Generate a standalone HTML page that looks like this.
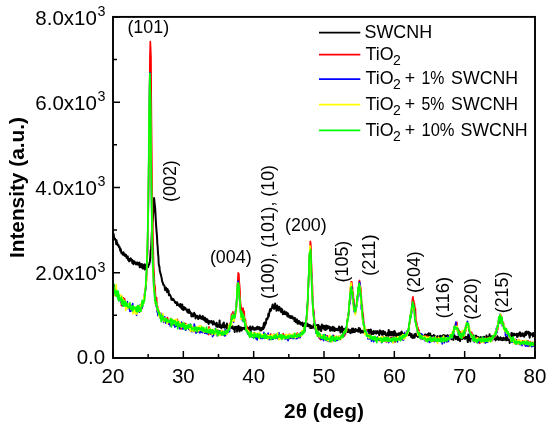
<!DOCTYPE html>
<html lang="en"><head><meta charset="utf-8"><title>XRD patterns</title>
<style>html,body{margin:0;padding:0;background:#fff}body{width:550px;height:431px;overflow:hidden}</style></head>
<body>
<svg width="550" height="431" viewBox="0 0 550 431" style="display:block" font-family="'Liberation Sans', sans-serif" fill="#000">
<rect width="550" height="431" fill="#fff"/>
<clipPath id="c"><rect x="113.0" y="16.9" width="422.0" height="341.1"/></clipPath>
<g clip-path="url(#c)">
<polyline points="113.0,234.6 113.4,233.6 113.7,234.6 114.1,237.8 114.4,238.3 114.8,239.4 115.1,238.7 115.5,240.3 115.8,239.9 116.2,244.2 116.5,240.2 116.9,243.2 117.2,242.8 117.6,244.6 117.9,245.5 118.3,245.0 118.6,245.1 119.0,247.1 119.3,247.6 119.7,247.0 120.0,249.7 120.4,251.1 120.7,249.1 121.1,251.0 121.4,253.2 121.8,252.2 122.1,252.2 122.5,253.7 122.8,254.6 123.2,253.0 123.6,252.3 123.9,254.3 124.3,255.4 124.6,254.3 125.0,254.3 125.3,256.0 125.7,255.3 126.0,254.9 126.4,257.0 126.7,258.1 127.1,256.9 127.4,257.3 127.8,256.4 128.1,260.0 128.5,259.4 128.8,259.9 129.2,261.4 129.5,259.1 129.9,258.8 130.2,260.8 130.6,258.2 130.9,259.2 131.3,259.7 131.6,260.2 132.0,259.7 132.3,263.0 132.7,260.6 133.0,260.8 133.4,264.2 133.7,261.5 134.1,262.6 134.5,261.4 134.8,263.2 135.2,262.8 135.5,262.5 135.9,264.4 136.2,262.6 136.6,263.7 136.9,263.1 137.3,264.6 137.6,262.6 138.0,263.4 138.3,264.7 138.7,263.7 139.0,263.0 139.4,262.5 139.7,267.2 140.1,264.0 140.4,264.7 140.8,265.6 141.1,267.0 141.5,264.1 141.8,267.6 142.2,265.3 142.5,264.5 142.9,268.6 143.2,267.0 143.6,268.5 143.9,266.5 144.3,264.9 144.7,264.4 145.0,269.6 145.4,268.0 145.7,266.4 146.1,265.2 146.4,266.7 146.8,268.2 147.1,266.6 147.5,266.8 147.8,266.7 148.2,267.1 148.5,265.2 148.9,264.8 149.2,264.3 149.6,262.4 149.9,261.2 150.3,256.9 150.6,251.2 151.0,248.9 151.3,245.0 151.7,235.0 152.0,230.0 152.4,222.4 152.7,219.8 153.1,214.8 153.4,210.7 153.8,202.4 154.1,198.0 154.5,202.4 154.8,205.0 155.2,208.3 155.6,216.4 155.9,222.1 156.3,227.9 156.6,232.2 157.0,236.3 157.3,243.1 157.7,247.1 158.0,253.6 158.4,256.7 158.7,263.6 159.1,266.2 159.4,266.3 159.8,271.0 160.1,271.8 160.5,273.7 160.8,274.2 161.2,276.2 161.5,277.1 161.9,279.7 162.2,281.4 162.6,282.5 162.9,283.0 163.3,284.8 163.6,284.9 164.0,285.1 164.3,285.4 164.7,287.0 165.0,289.9 165.4,288.1 165.8,288.3 166.1,287.8 166.5,289.2 166.8,291.5 167.2,292.2 167.5,289.0 167.9,291.3 168.2,290.5 168.6,290.6 168.9,295.2 169.3,294.1 169.6,294.5 170.0,294.9 170.3,295.5 170.7,296.4 171.0,296.9 171.4,299.7 171.7,298.3 172.1,299.6 172.4,298.8 172.8,300.1 173.1,299.0 173.5,299.1 173.8,300.2 174.2,300.5 174.5,301.2 174.9,302.3 175.2,302.2 175.6,303.0 175.9,302.1 176.3,302.8 176.7,302.4 177.0,305.2 177.4,302.5 177.7,305.0 178.1,305.2 178.4,304.7 178.8,305.4 179.1,304.5 179.5,305.9 179.8,306.8 180.2,306.8 180.5,304.1 180.9,306.0 181.2,307.9 181.6,306.6 181.9,308.9 182.3,304.6 182.6,309.4 183.0,306.9 183.3,307.1 183.7,310.1 184.0,307.9 184.4,307.2 184.7,308.2 185.1,308.7 185.4,308.0 185.8,309.4 186.1,309.4 186.5,310.2 186.9,309.5 187.2,311.8 187.6,309.7 187.9,311.7 188.3,312.8 188.6,311.0 189.0,309.4 189.3,310.7 189.7,312.9 190.0,311.5 190.4,313.3 190.7,313.0 191.1,313.0 191.4,316.5 191.8,313.3 192.1,315.2 192.5,315.0 192.8,316.2 193.2,316.5 193.5,315.9 193.9,313.7 194.2,312.8 194.6,315.3 194.9,314.0 195.3,316.0 195.6,318.4 196.0,315.8 196.3,315.6 196.7,316.9 197.0,316.1 197.4,315.9 197.8,318.0 198.1,319.0 198.5,317.4 198.8,317.5 199.2,317.9 199.5,316.2 199.9,315.3 200.2,318.4 200.6,317.0 200.9,316.8 201.3,317.2 201.6,316.9 202.0,319.0 202.3,317.6 202.7,316.0 203.0,317.8 203.4,319.8 203.7,318.3 204.1,317.6 204.4,319.0 204.8,320.4 205.1,317.7 205.5,321.6 205.8,319.4 206.2,320.3 206.5,322.0 206.9,318.9 207.2,320.3 207.6,322.5 208.0,320.2 208.3,321.8 208.7,324.0 209.0,322.5 209.4,321.3 209.7,321.0 210.1,321.8 210.4,322.1 210.8,321.6 211.1,322.7 211.5,320.9 211.8,322.5 212.2,322.4 212.5,322.2 212.9,324.5 213.2,324.2 213.6,321.3 213.9,323.0 214.3,324.0 214.6,323.3 215.0,324.5 215.3,323.6 215.7,325.0 216.0,323.9 216.4,326.5 216.7,322.7 217.1,325.3 217.4,326.9 217.8,325.1 218.1,325.4 218.5,324.8 218.9,326.7 219.2,324.7 219.6,320.4 219.9,327.1 220.3,325.0 220.6,326.0 221.0,325.4 221.3,328.2 221.7,327.4 222.0,325.3 222.4,326.1 222.7,323.9 223.1,327.1 223.4,326.0 223.8,322.4 224.1,327.4 224.5,327.7 224.8,326.6 225.2,326.7 225.5,325.5 225.9,326.6 226.2,327.9 226.6,326.6 226.9,323.4 227.3,325.3 227.6,330.9 228.0,327.4 228.3,328.4 228.7,326.5 229.1,327.6 229.4,324.8 229.8,326.2 230.1,326.3 230.5,327.4 230.8,327.7 231.2,327.2 231.5,326.0 231.9,327.1 232.2,328.3 232.6,326.2 232.9,327.7 233.3,328.1 233.6,329.1 234.0,328.8 234.3,328.9 234.7,331.9 235.0,326.8 235.4,327.4 235.7,328.5 236.1,326.8 236.4,327.7 236.8,327.8 237.1,331.7 237.5,328.6 237.8,327.6 238.2,326.2 238.5,325.9 238.9,326.5 239.2,330.0 239.6,331.4 240.0,327.7 240.3,328.4 240.7,327.2 241.0,328.7 241.4,328.2 241.7,330.6 242.1,327.9 242.4,329.1 242.8,328.1 243.1,327.9 243.5,328.7 243.8,328.1 244.2,328.6 244.5,327.6 244.9,327.9 245.2,329.4 245.6,329.4 245.9,326.3 246.3,328.8 246.6,327.3 247.0,328.1 247.3,329.4 247.7,329.7 248.0,328.5 248.4,328.3 248.7,327.9 249.1,330.4 249.4,329.5 249.8,328.8 250.2,326.5 250.5,331.9 250.9,328.1 251.2,329.5 251.6,328.1 251.9,329.4 252.3,328.2 252.6,326.6 253.0,328.3 253.3,328.1 253.7,328.2 254.0,329.8 254.4,328.0 254.7,329.0 255.1,329.8 255.4,328.8 255.8,329.0 256.1,327.7 256.5,328.8 256.8,329.4 257.2,326.7 257.5,327.3 257.9,326.9 258.2,327.8 258.6,328.8 258.9,329.2 259.3,329.0 259.6,327.3 260.0,328.4 260.3,330.6 260.7,328.6 261.1,330.4 261.4,328.1 261.8,329.8 262.1,329.6 262.5,327.4 262.8,327.3 263.2,329.1 263.5,325.4 263.9,323.1 264.2,327.6 264.6,322.5 264.9,325.3 265.3,324.2 265.6,322.8 266.0,323.5 266.3,318.8 266.7,318.8 267.0,319.5 267.4,317.9 267.7,318.7 268.1,316.2 268.4,313.6 268.8,316.4 269.1,313.8 269.5,312.2 269.8,310.2 270.2,309.1 270.5,310.9 270.9,310.6 271.3,308.4 271.6,308.8 272.0,308.2 272.3,305.7 272.7,304.5 273.0,306.2 273.4,306.7 273.7,305.7 274.1,309.0 274.4,306.6 274.8,308.1 275.1,303.5 275.5,305.9 275.8,306.8 276.2,307.4 276.5,310.7 276.9,306.5 277.2,305.4 277.6,308.8 277.9,307.0 278.3,307.1 278.6,310.4 279.0,307.2 279.3,306.8 279.7,308.6 280.0,309.2 280.4,308.3 280.7,311.7 281.1,309.8 281.4,308.8 281.8,312.2 282.2,309.4 282.5,311.6 282.9,314.2 283.2,311.8 283.6,313.2 283.9,311.7 284.3,314.0 284.6,311.3 285.0,314.0 285.3,312.7 285.7,314.3 286.0,314.1 286.4,312.3 286.7,313.9 287.1,315.0 287.4,316.4 287.8,313.3 288.1,314.1 288.5,315.8 288.8,315.3 289.2,317.2 289.5,317.4 289.9,317.4 290.2,316.0 290.6,316.3 290.9,318.0 291.3,316.2 291.6,316.4 292.0,317.4 292.4,316.5 292.7,318.5 293.1,318.5 293.4,318.0 293.8,318.9 294.1,318.0 294.5,321.1 294.8,317.7 295.2,321.0 295.5,320.4 295.9,322.3 296.2,319.8 296.6,319.2 296.9,319.7 297.3,320.2 297.6,323.7 298.0,322.9 298.3,322.6 298.7,323.5 299.0,320.9 299.4,322.3 299.7,322.8 300.1,322.2 300.4,324.4 300.8,324.5 301.1,324.6 301.5,322.9 301.8,323.2 302.2,323.0 302.5,322.5 302.9,326.0 303.3,325.0 303.6,324.2 304.0,326.3 304.3,325.3 304.7,323.3 305.0,323.3 305.4,323.4 305.7,324.9 306.1,325.4 306.4,323.7 306.8,325.8 307.1,324.9 307.5,323.6 307.8,326.0 308.2,326.4 308.5,325.6 308.9,324.8 309.2,325.1 309.6,325.6 309.9,325.1 310.3,328.1 310.6,327.1 311.0,325.8 311.3,327.3 311.7,328.0 312.0,327.8 312.4,327.5 312.7,326.5 313.1,327.7 313.5,326.1 313.8,324.1 314.2,326.7 314.5,324.8 314.9,326.2 315.2,328.2 315.6,327.1 315.9,328.1 316.3,325.8 316.6,328.4 317.0,325.1 317.3,326.2 317.7,329.8 318.0,326.0 318.4,325.0 318.7,328.2 319.1,325.9 319.4,329.7 319.8,327.0 320.1,329.6 320.5,326.7 320.8,329.9 321.2,331.1 321.5,327.0 321.9,324.5 322.2,328.4 322.6,326.5 322.9,327.6 323.3,328.2 323.6,327.0 324.0,325.6 324.4,329.6 324.7,327.2 325.1,327.5 325.4,330.0 325.8,325.9 326.1,325.5 326.5,329.5 326.8,325.8 327.2,328.2 327.5,328.5 327.9,326.3 328.2,328.1 328.6,328.0 328.9,326.4 329.3,326.8 329.6,327.3 330.0,330.5 330.3,330.8 330.7,327.2 331.0,330.0 331.4,328.6 331.7,330.3 332.1,329.1 332.4,330.6 332.8,326.7 333.1,330.4 333.5,329.2 333.8,329.3 334.2,327.5 334.6,331.1 334.9,329.2 335.3,329.5 335.6,328.6 336.0,328.7 336.3,330.0 336.7,329.1 337.0,329.9 337.4,328.8 337.7,329.6 338.1,330.4 338.4,329.6 338.8,329.1 339.1,326.6 339.5,330.4 339.8,329.3 340.2,327.8 340.5,332.6 340.9,332.2 341.2,331.5 341.6,330.1 341.9,326.6 342.3,329.4 342.6,328.4 343.0,330.3 343.3,333.4 343.7,333.2 344.0,328.7 344.4,329.9 344.7,332.0 345.1,328.7 345.5,332.3 345.8,328.7 346.2,328.3 346.5,331.4 346.9,331.9 347.2,329.2 347.6,331.9 347.9,329.3 348.3,332.1 348.6,329.4 349.0,330.4 349.3,331.1 349.7,331.8 350.0,330.3 350.4,333.2 350.7,331.0 351.1,331.2 351.4,329.8 351.8,332.4 352.1,328.4 352.5,331.2 352.8,332.3 353.2,328.9 353.5,328.6 353.9,331.1 354.2,332.1 354.6,330.9 354.9,331.9 355.3,331.4 355.7,328.9 356.0,330.5 356.4,330.8 356.7,330.6 357.1,331.1 357.4,329.9 357.8,329.9 358.1,331.6 358.5,331.0 358.8,327.9 359.2,330.6 359.5,331.5 359.9,328.5 360.2,331.2 360.6,332.8 360.9,330.4 361.3,332.5 361.6,332.0 362.0,330.9 362.3,331.6 362.7,332.4 363.0,332.2 363.4,332.3 363.7,329.9 364.1,332.5 364.4,332.3 364.8,328.8 365.1,332.3 365.5,329.6 365.8,329.8 366.2,331.8 366.6,333.6 366.9,331.0 367.3,330.8 367.6,330.4 368.0,331.6 368.3,330.1 368.7,329.9 369.0,333.2 369.4,329.9 369.7,331.6 370.1,332.6 370.4,332.3 370.8,329.4 371.1,330.6 371.5,334.4 371.8,331.9 372.2,332.2 372.5,332.3 372.9,332.8 373.2,334.1 373.6,330.9 373.9,333.4 374.3,332.7 374.6,333.0 375.0,333.2 375.3,331.2 375.7,331.8 376.0,333.2 376.4,333.6 376.8,333.0 377.1,331.1 377.5,332.2 377.8,332.1 378.2,332.9 378.5,332.8 378.9,332.2 379.2,335.1 379.6,330.4 379.9,333.7 380.3,333.4 380.6,330.8 381.0,332.4 381.3,332.7 381.7,333.5 382.0,334.9 382.4,332.6 382.7,331.2 383.1,334.1 383.4,331.0 383.8,334.5 384.1,334.0 384.5,332.3 384.8,333.0 385.2,332.1 385.5,334.1 385.9,334.5 386.2,335.7 386.6,334.8 386.9,334.7 387.3,335.2 387.7,332.8 388.0,334.2 388.4,336.0 388.7,330.0 389.1,334.5 389.4,335.1 389.8,331.7 390.1,331.9 390.5,335.1 390.8,335.5 391.2,334.9 391.5,332.1 391.9,334.0 392.2,334.7 392.6,333.7 392.9,332.1 393.3,335.6 393.6,334.3 394.0,335.7 394.3,330.9 394.7,331.4 395.0,332.6 395.4,334.1 395.7,333.1 396.1,336.9 396.4,333.7 396.8,335.9 397.1,335.9 397.5,335.1 397.9,334.6 398.2,333.4 398.6,333.3 398.9,333.9 399.3,335.6 399.6,333.4 400.0,334.5 400.3,332.8 400.7,335.7 401.0,338.3 401.4,335.2 401.7,331.6 402.1,334.0 402.4,334.9 402.8,333.5 403.1,334.0 403.5,334.1 403.8,335.5 404.2,334.7 404.5,334.6 404.9,335.8 405.2,336.4 405.6,334.8 405.9,333.7 406.3,334.2 406.6,334.4 407.0,334.4 407.3,331.6 407.7,334.8 408.0,333.8 408.4,332.6 408.8,335.2 409.1,334.9 409.5,333.9 409.8,333.1 410.2,335.0 410.5,334.9 410.9,335.3 411.2,337.1 411.6,334.0 411.9,335.9 412.3,337.9 412.6,335.8 413.0,338.0 413.3,337.0 413.7,335.6 414.0,336.9 414.4,334.3 414.7,337.7 415.1,335.4 415.4,335.0 415.8,333.8 416.1,334.6 416.5,335.6 416.8,335.8 417.2,336.0 417.5,334.4 417.9,336.9 418.2,335.3 418.6,336.2 419.0,335.7 419.3,336.4 419.7,333.2 420.0,337.0 420.4,335.8 420.7,335.8 421.1,335.4 421.4,335.6 421.8,335.7 422.1,334.9 422.5,338.3 422.8,336.3 423.2,338.0 423.5,336.1 423.9,338.0 424.2,337.7 424.6,336.5 424.9,334.6 425.3,335.7 425.6,336.1 426.0,334.6 426.3,337.8 426.7,339.4 427.0,337.1 427.4,337.0 427.7,334.9 428.1,333.7 428.4,338.4 428.8,333.3 429.1,334.5 429.5,335.5 429.9,336.2 430.2,333.4 430.6,336.6 430.9,337.4 431.3,336.5 431.6,338.6 432.0,336.1 432.3,336.9 432.7,336.3 433.0,336.3 433.4,338.2 433.7,335.0 434.1,338.2 434.4,335.6 434.8,339.0 435.1,336.3 435.5,338.0 435.8,336.8 436.2,337.8 436.5,339.9 436.9,338.4 437.2,336.8 437.6,336.1 437.9,338.9 438.3,339.8 438.6,338.1 439.0,337.2 439.3,337.8 439.7,338.1 440.1,335.8 440.4,335.7 440.8,336.0 441.1,338.3 441.5,336.9 441.8,337.3 442.2,339.0 442.5,335.8 442.9,336.9 443.2,337.7 443.6,335.1 443.9,336.0 444.3,335.9 444.6,335.5 445.0,336.1 445.3,338.8 445.7,337.7 446.0,335.8 446.4,338.2 446.7,337.1 447.1,336.6 447.4,335.2 447.8,335.4 448.1,336.0 448.5,337.4 448.8,335.9 449.2,336.5 449.5,337.4 449.9,335.4 450.2,336.5 450.6,338.3 451.0,335.5 451.3,337.6 451.7,336.4 452.0,339.3 452.4,337.3 452.7,338.6 453.1,338.6 453.4,339.9 453.8,334.4 454.1,337.5 454.5,337.0 454.8,335.8 455.2,337.5 455.5,336.6 455.9,339.2 456.2,337.1 456.6,337.9 456.9,336.7 457.3,337.1 457.6,339.3 458.0,339.9 458.3,338.8 458.7,336.4 459.0,336.8 459.4,336.9 459.7,340.2 460.1,341.1 460.4,338.3 460.8,337.9 461.2,338.3 461.5,337.0 461.9,337.7 462.2,339.1 462.6,338.7 462.9,337.3 463.3,337.4 463.6,337.6 464.0,334.4 464.3,337.9 464.7,337.4 465.0,338.9 465.4,338.0 465.7,336.8 466.1,336.8 466.4,337.8 466.8,337.0 467.1,337.5 467.5,340.2 467.8,342.1 468.2,334.5 468.5,336.5 468.9,337.7 469.2,340.0 469.6,339.4 469.9,335.8 470.3,341.4 470.6,338.1 471.0,336.5 471.3,337.5 471.7,336.7 472.1,337.9 472.4,334.4 472.8,339.1 473.1,339.6 473.5,337.3 473.8,335.8 474.2,337.8 474.5,336.3 474.9,338.5 475.2,339.4 475.6,335.9 475.9,335.6 476.3,335.7 476.6,338.4 477.0,339.4 477.3,339.4 477.7,338.1 478.0,337.0 478.4,337.1 478.7,339.8 479.1,337.6 479.4,337.8 479.8,337.7 480.1,337.9 480.5,338.1 480.8,337.1 481.2,337.7 481.5,337.6 481.9,338.8 482.3,337.4 482.6,338.1 483.0,340.8 483.3,337.3 483.7,338.3 484.0,336.7 484.4,338.2 484.7,338.1 485.1,337.7 485.4,338.0 485.8,338.6 486.1,340.5 486.5,335.5 486.8,340.2 487.2,338.5 487.5,337.2 487.9,337.6 488.2,337.3 488.6,337.1 488.9,336.4 489.3,337.8 489.6,334.2 490.0,339.6 490.3,337.9 490.7,338.7 491.0,339.0 491.4,337.9 491.7,336.3 492.1,339.3 492.4,339.3 492.8,337.4 493.2,337.7 493.5,335.8 493.9,337.0 494.2,338.1 494.6,338.9 494.9,338.2 495.3,338.8 495.6,340.4 496.0,338.5 496.3,338.8 496.7,338.9 497.0,339.2 497.4,336.3 497.7,337.7 498.1,337.3 498.4,339.5 498.8,340.0 499.1,339.0 499.5,338.3 499.8,339.1 500.2,338.9 500.5,337.3 500.9,338.2 501.2,340.0 501.6,339.2 501.9,339.5 502.3,338.4 502.6,340.2 503.0,338.9 503.4,337.7 503.7,338.6 504.1,339.9 504.4,339.5 504.8,338.5 505.1,338.0 505.5,337.5 505.8,338.8 506.2,340.4 506.5,336.7 506.9,338.2 507.2,338.1 507.6,338.2 507.9,340.1 508.3,339.1 508.6,338.3 509.0,337.2 509.3,338.6 509.7,342.9 510.0,339.0 510.4,338.0 510.7,336.2 511.1,336.2 511.4,333.0 511.8,333.8 512.1,333.3 512.5,333.6 512.8,336.7 513.2,333.6 513.5,333.9 513.9,335.4 514.3,333.8 514.6,334.0 515.0,335.2 515.3,334.7 515.7,334.9 516.0,334.2 516.4,335.0 516.7,333.7 517.1,337.0 517.4,334.8 517.8,336.7 518.1,335.0 518.5,333.6 518.8,334.3 519.2,334.5 519.5,334.2 519.9,332.2 520.2,335.8 520.6,333.1 520.9,336.3 521.3,334.9 521.6,334.0 522.0,335.4 522.3,333.9 522.7,333.2 523.0,335.8 523.4,334.3 523.7,334.7 524.1,336.8 524.5,334.4 524.8,335.3 525.2,332.3 525.5,335.3 525.9,331.8 526.2,334.9 526.6,331.5 526.9,333.4 527.3,333.5 527.6,333.0 528.0,332.9 528.3,332.2 528.7,331.7 529.0,334.6 529.4,335.8 529.7,337.7 530.1,334.6 530.4,333.0 530.8,333.6 531.1,333.9 531.5,334.5 531.8,334.9 532.2,334.4 532.5,333.5 532.9,336.5 533.2,333.1 533.6,336.0 533.9,334.3 534.3,334.9 534.6,334.6 535.0,335.5" fill="none" stroke="#000" stroke-width="2.0" stroke-linejoin="round"/>
<polyline points="113.0,285.5 113.4,285.2 113.7,287.1 114.1,291.6 114.4,287.3 114.8,289.1 115.1,292.0 115.5,290.2 115.8,291.3 116.2,292.1 116.5,293.3 116.9,292.7 117.2,296.1 117.6,295.4 117.9,296.6 118.3,294.8 118.6,296.5 119.0,297.7 119.3,299.2 119.7,298.5 120.0,298.3 120.4,299.3 120.7,296.4 121.1,297.4 121.4,305.6 121.8,304.2 122.1,301.0 122.5,301.9 122.8,300.9 123.2,301.2 123.6,297.7 123.9,304.6 124.3,303.4 124.6,298.8 125.0,302.0 125.3,302.2 125.7,304.9 126.0,307.4 126.4,304.1 126.7,304.4 127.1,307.4 127.4,306.5 127.8,305.6 128.1,307.5 128.5,306.1 128.8,305.9 129.2,306.3 129.5,307.5 129.9,305.6 130.2,305.2 130.6,306.5 130.9,308.9 131.3,306.1 131.6,308.6 132.0,306.1 132.3,310.0 132.7,306.3 133.0,308.3 133.4,310.8 133.7,309.1 134.1,308.5 134.5,308.2 134.8,310.7 135.2,311.0 135.5,308.6 135.9,309.9 136.2,308.6 136.6,307.6 136.9,312.2 137.3,308.6 137.6,306.7 138.0,309.5 138.3,310.4 138.7,307.3 139.0,308.1 139.4,306.6 139.7,308.8 140.1,310.7 140.4,307.7 140.8,308.0 141.1,305.1 141.5,305.7 141.8,308.7 142.2,307.1 142.5,302.2 142.9,301.6 143.2,303.2 143.6,300.6 143.9,298.2 144.3,296.3 144.7,293.4 145.0,292.2 145.4,290.0 145.7,286.8 146.1,279.2 146.4,281.9 146.8,269.9 147.1,261.0 147.5,254.4 147.8,235.5 148.2,220.9 148.5,193.0 148.9,167.7 149.2,129.5 149.6,88.1 149.9,56.2 150.3,41.5 150.6,47.3 151.0,56.9 151.3,103.0 151.7,144.1 152.0,175.0 152.4,204.1 152.7,222.7 153.1,242.4 153.4,255.8 153.8,268.2 154.1,273.5 154.5,283.8 154.8,285.2 155.2,287.8 155.6,298.2 155.9,303.2 156.3,299.3 156.6,297.6 157.0,306.7 157.3,308.8 157.7,306.6 158.0,310.6 158.4,311.1 158.7,311.8 159.1,311.0 159.4,313.5 159.8,313.0 160.1,314.4 160.5,316.2 160.8,315.7 161.2,317.3 161.5,316.1 161.9,318.5 162.2,318.8 162.6,314.6 162.9,317.6 163.3,317.9 163.6,317.2 164.0,319.0 164.3,318.9 164.7,318.0 165.0,318.5 165.4,321.1 165.8,318.0 166.1,320.5 166.5,321.5 166.8,321.4 167.2,320.7 167.5,317.5 167.9,322.3 168.2,320.2 168.6,324.2 168.9,320.8 169.3,319.4 169.6,321.5 170.0,322.2 170.3,321.0 170.7,320.3 171.0,320.5 171.4,318.5 171.7,321.5 172.1,322.9 172.4,322.3 172.8,322.3 173.1,322.2 173.5,322.5 173.8,322.3 174.2,325.4 174.5,321.5 174.9,323.9 175.2,325.0 175.6,322.2 175.9,321.2 176.3,322.6 176.7,323.3 177.0,325.1 177.4,319.2 177.7,322.5 178.1,325.8 178.4,325.3 178.8,324.1 179.1,326.8 179.5,324.1 179.8,325.2 180.2,322.7 180.5,323.2 180.9,329.1 181.2,324.9 181.6,327.6 181.9,323.4 182.3,325.0 182.6,324.5 183.0,327.1 183.3,322.7 183.7,322.6 184.0,327.4 184.4,325.3 184.7,327.0 185.1,326.1 185.4,328.2 185.8,323.5 186.1,327.9 186.5,327.0 186.9,325.9 187.2,327.7 187.6,327.2 187.9,327.8 188.3,327.2 188.6,328.9 189.0,327.9 189.3,327.6 189.7,327.9 190.0,327.4 190.4,328.0 190.7,326.6 191.1,328.3 191.4,328.1 191.8,328.9 192.1,328.8 192.5,330.0 192.8,327.4 193.2,329.9 193.5,329.4 193.9,327.9 194.2,327.9 194.6,329.1 194.9,331.6 195.3,328.1 195.6,328.4 196.0,330.9 196.3,327.8 196.7,330.0 197.0,330.7 197.4,329.0 197.8,329.4 198.1,328.9 198.5,331.6 198.8,326.7 199.2,330.3 199.5,331.7 199.9,328.7 200.2,330.1 200.6,329.2 200.9,330.2 201.3,329.9 201.6,329.5 202.0,331.0 202.3,329.0 202.7,330.7 203.0,331.4 203.4,330.1 203.7,329.6 204.1,330.7 204.4,331.6 204.8,329.6 205.1,333.0 205.5,332.1 205.8,330.6 206.2,332.7 206.5,330.8 206.9,331.0 207.2,329.7 207.6,332.3 208.0,332.0 208.3,330.7 208.7,334.7 209.0,326.9 209.4,332.3 209.7,332.4 210.1,330.3 210.4,331.6 210.8,334.1 211.1,330.8 211.5,330.5 211.8,332.4 212.2,332.2 212.5,331.2 212.9,333.2 213.2,331.4 213.6,331.8 213.9,333.0 214.3,334.0 214.6,332.5 215.0,333.4 215.3,330.9 215.7,332.1 216.0,331.3 216.4,332.2 216.7,332.1 217.1,333.5 217.4,331.6 217.8,330.1 218.1,333.0 218.5,333.4 218.9,332.9 219.2,333.3 219.6,333.7 219.9,332.5 220.3,333.1 220.6,330.8 221.0,332.8 221.3,332.3 221.7,331.5 222.0,333.2 222.4,330.8 222.7,333.6 223.1,333.8 223.4,333.2 223.8,332.8 224.1,334.5 224.5,332.6 224.8,334.7 225.2,330.5 225.5,332.4 225.9,333.0 226.2,333.2 226.6,332.3 226.9,331.9 227.3,332.8 227.6,332.3 228.0,330.8 228.3,330.8 228.7,328.1 229.1,326.9 229.4,327.6 229.8,325.7 230.1,327.0 230.5,322.2 230.8,321.4 231.2,318.4 231.5,314.4 231.9,319.3 232.2,313.2 232.6,314.9 232.9,311.7 233.3,315.7 233.6,315.0 234.0,314.6 234.3,314.3 234.7,315.4 235.0,316.3 235.4,314.6 235.7,309.7 236.1,308.2 236.4,307.3 236.8,296.9 237.1,291.5 237.5,283.7 237.8,280.2 238.2,272.8 238.5,276.0 238.9,273.9 239.2,281.4 239.6,284.9 240.0,290.8 240.3,300.4 240.7,303.8 241.0,307.3 241.4,307.7 241.7,310.3 242.1,314.7 242.4,311.7 242.8,311.0 243.1,308.1 243.5,315.1 243.8,313.4 244.2,311.2 244.5,317.9 244.9,319.7 245.2,319.0 245.6,320.4 245.9,325.1 246.3,325.0 246.6,327.2 247.0,326.4 247.3,329.6 247.7,329.1 248.0,332.4 248.4,332.0 248.7,332.3 249.1,331.0 249.4,332.1 249.8,334.2 250.2,332.5 250.5,332.6 250.9,334.0 251.2,334.4 251.6,334.4 251.9,336.6 252.3,334.2 252.6,334.3 253.0,335.8 253.3,333.8 253.7,336.7 254.0,335.7 254.4,335.7 254.7,332.6 255.1,337.3 255.4,334.6 255.8,334.1 256.1,334.9 256.5,333.9 256.8,336.8 257.2,338.5 257.5,334.6 257.9,337.2 258.2,336.1 258.6,337.2 258.9,334.4 259.3,334.7 259.6,336.8 260.0,334.7 260.3,335.8 260.7,336.1 261.1,335.9 261.4,336.3 261.8,335.3 262.1,335.7 262.5,336.5 262.8,334.9 263.2,336.9 263.5,335.8 263.9,335.7 264.2,334.4 264.6,336.9 264.9,334.1 265.3,336.1 265.6,336.6 266.0,337.2 266.3,335.6 266.7,336.3 267.0,337.8 267.4,337.8 267.7,337.1 268.1,337.3 268.4,335.1 268.8,334.7 269.1,335.4 269.5,336.0 269.8,337.0 270.2,336.4 270.5,335.4 270.9,333.9 271.3,335.4 271.6,336.9 272.0,336.5 272.3,337.2 272.7,337.6 273.0,336.8 273.4,336.4 273.7,334.4 274.1,336.6 274.4,335.0 274.8,334.5 275.1,336.6 275.5,334.7 275.8,335.8 276.2,337.2 276.5,336.4 276.9,336.7 277.2,337.0 277.6,337.0 277.9,336.6 278.3,336.2 278.6,337.8 279.0,336.8 279.3,338.7 279.7,336.4 280.0,336.0 280.4,336.6 280.7,336.4 281.1,336.1 281.4,337.6 281.8,337.1 282.2,336.2 282.5,335.6 282.9,336.3 283.2,333.6 283.6,336.9 283.9,335.6 284.3,335.2 284.6,337.0 285.0,337.8 285.3,338.3 285.7,336.6 286.0,335.4 286.4,336.5 286.7,336.6 287.1,337.3 287.4,336.1 287.8,339.4 288.1,336.5 288.5,336.7 288.8,338.5 289.2,334.1 289.5,338.5 289.9,338.1 290.2,338.2 290.6,335.3 290.9,337.8 291.3,335.8 291.6,335.9 292.0,336.3 292.4,338.2 292.7,337.3 293.1,334.5 293.4,338.1 293.8,337.5 294.1,336.7 294.5,335.4 294.8,336.0 295.2,335.4 295.5,337.6 295.9,335.0 296.2,335.4 296.6,338.1 296.9,334.0 297.3,333.0 297.6,336.8 298.0,335.6 298.3,333.8 298.7,337.4 299.0,337.9 299.4,336.8 299.7,335.7 300.1,335.6 300.4,333.8 300.8,334.0 301.1,335.8 301.5,333.1 301.8,331.0 302.2,331.6 302.5,331.4 302.9,332.3 303.3,330.4 303.6,332.5 304.0,329.4 304.3,329.7 304.7,326.9 305.0,326.7 305.4,327.7 305.7,324.1 306.1,320.2 306.4,321.4 306.8,317.2 307.1,313.5 307.5,310.0 307.8,299.0 308.2,290.7 308.5,283.2 308.9,274.8 309.2,265.4 309.6,254.9 309.9,250.0 310.3,241.4 310.6,242.0 311.0,247.9 311.3,260.6 311.7,269.1 312.0,279.8 312.4,284.6 312.7,296.4 313.1,307.5 313.5,308.7 313.8,310.7 314.2,316.7 314.5,319.5 314.9,323.4 315.2,328.5 315.6,329.8 315.9,330.3 316.3,329.8 316.6,330.1 317.0,330.4 317.3,332.6 317.7,331.4 318.0,333.6 318.4,334.7 318.7,333.0 319.1,335.7 319.4,338.4 319.8,336.6 320.1,335.4 320.5,339.6 320.8,336.4 321.2,336.6 321.5,338.2 321.9,338.4 322.2,337.3 322.6,337.6 322.9,335.5 323.3,336.7 323.6,339.3 324.0,338.5 324.4,336.7 324.7,335.4 325.1,337.3 325.4,337.5 325.8,335.7 326.1,338.1 326.5,338.5 326.8,339.9 327.2,338.9 327.5,335.8 327.9,340.1 328.2,338.5 328.6,340.2 328.9,338.4 329.3,337.6 329.6,338.9 330.0,337.8 330.3,337.8 330.7,338.2 331.0,336.7 331.4,337.8 331.7,339.1 332.1,339.5 332.4,339.7 332.8,338.1 333.1,339.1 333.5,335.4 333.8,336.5 334.2,338.9 334.6,339.0 334.9,336.5 335.3,340.7 335.6,339.0 336.0,337.3 336.3,339.4 336.7,338.9 337.0,338.7 337.4,337.4 337.7,337.9 338.1,337.5 338.4,337.2 338.8,337.7 339.1,336.3 339.5,338.4 339.8,339.1 340.2,339.4 340.5,339.1 340.9,337.6 341.2,335.4 341.6,336.2 341.9,337.0 342.3,337.3 342.6,336.3 343.0,335.8 343.3,335.6 343.7,336.3 344.0,334.6 344.4,332.0 344.7,335.7 345.1,332.3 345.5,334.1 345.8,329.8 346.2,329.9 346.5,330.5 346.9,325.5 347.2,320.7 347.6,321.1 347.9,316.5 348.3,315.5 348.6,315.8 349.0,306.9 349.3,304.3 349.7,302.0 350.0,292.6 350.4,289.4 350.7,287.6 351.1,281.9 351.4,285.0 351.8,281.9 352.1,287.6 352.5,287.1 352.8,294.3 353.2,292.3 353.5,298.5 353.9,299.2 354.2,306.4 354.6,307.6 354.9,306.4 355.3,313.9 355.7,310.5 356.0,305.7 356.4,305.3 356.7,302.0 357.1,301.8 357.4,296.5 357.8,295.5 358.1,292.9 358.5,289.8 358.8,283.7 359.2,281.2 359.5,280.4 359.9,288.1 360.2,286.6 360.6,286.7 360.9,289.3 361.3,296.0 361.6,301.5 362.0,309.0 362.3,304.9 362.7,314.7 363.0,313.2 363.4,316.6 363.7,321.4 364.1,325.0 364.4,325.7 364.8,329.3 365.1,328.5 365.5,330.1 365.8,330.3 366.2,330.6 366.6,330.3 366.9,333.8 367.3,332.4 367.6,335.3 368.0,335.8 368.3,335.8 368.7,336.6 369.0,334.4 369.4,334.8 369.7,334.6 370.1,336.5 370.4,336.3 370.8,337.6 371.1,338.4 371.5,336.6 371.8,337.0 372.2,338.8 372.5,336.9 372.9,339.8 373.2,338.0 373.6,338.7 373.9,338.7 374.3,339.4 374.6,337.1 375.0,337.6 375.3,336.9 375.7,338.3 376.0,340.0 376.4,339.0 376.8,340.0 377.1,338.1 377.5,337.3 377.8,338.4 378.2,339.5 378.5,339.3 378.9,338.6 379.2,340.6 379.6,338.8 379.9,338.8 380.3,339.7 380.6,339.5 381.0,338.9 381.3,340.1 381.7,340.1 382.0,338.2 382.4,338.9 382.7,337.2 383.1,340.4 383.4,341.3 383.8,338.2 384.1,338.2 384.5,340.1 384.8,341.0 385.2,339.4 385.5,341.3 385.9,339.7 386.2,341.9 386.6,339.6 386.9,341.8 387.3,339.6 387.7,337.6 388.0,339.7 388.4,338.5 388.7,340.1 389.1,340.4 389.4,341.1 389.8,338.1 390.1,339.4 390.5,337.5 390.8,340.7 391.2,339.6 391.5,339.2 391.9,337.7 392.2,337.2 392.6,340.0 392.9,340.6 393.3,341.3 393.6,337.7 394.0,339.3 394.3,340.0 394.7,339.2 395.0,342.1 395.4,341.1 395.7,338.0 396.1,338.6 396.4,338.9 396.8,340.2 397.1,338.3 397.5,336.8 397.9,340.3 398.2,338.8 398.6,339.3 398.9,338.3 399.3,338.6 399.6,338.7 400.0,339.5 400.3,338.4 400.7,339.0 401.0,338.4 401.4,338.1 401.7,337.1 402.1,338.5 402.4,338.0 402.8,336.2 403.1,337.6 403.5,337.4 403.8,335.8 404.2,336.3 404.5,336.2 404.9,335.8 405.2,337.3 405.6,334.7 405.9,333.1 406.3,333.5 406.6,335.8 407.0,332.6 407.3,333.5 407.7,331.6 408.0,330.0 408.4,330.7 408.8,325.5 409.1,326.0 409.5,322.8 409.8,320.8 410.2,317.2 410.5,314.7 410.9,316.5 411.2,310.7 411.6,311.8 411.9,305.6 412.3,300.7 412.6,298.5 413.0,296.8 413.3,300.5 413.7,300.3 414.0,302.9 414.4,303.3 414.7,305.8 415.1,312.6 415.4,308.2 415.8,317.8 416.1,321.0 416.5,321.7 416.8,323.6 417.2,325.7 417.5,329.1 417.9,327.3 418.2,330.6 418.6,329.5 419.0,330.6 419.3,335.0 419.7,335.2 420.0,335.8 420.4,334.7 420.7,335.4 421.1,335.5 421.4,337.2 421.8,335.9 422.1,335.0 422.5,338.6 422.8,337.5 423.2,337.1 423.5,337.7 423.9,338.0 424.2,335.8 424.6,336.5 424.9,337.2 425.3,339.2 425.6,335.7 426.0,338.1 426.3,339.3 426.7,339.1 427.0,339.3 427.4,336.3 427.7,338.6 428.1,338.9 428.4,341.5 428.8,338.2 429.1,340.3 429.5,340.5 429.9,338.5 430.2,340.2 430.6,338.3 430.9,338.0 431.3,341.4 431.6,339.5 432.0,341.2 432.3,339.5 432.7,338.4 433.0,341.1 433.4,337.4 433.7,339.9 434.1,340.9 434.4,339.7 434.8,338.7 435.1,341.2 435.5,339.6 435.8,341.2 436.2,338.3 436.5,339.5 436.9,340.2 437.2,338.5 437.6,341.2 437.9,340.2 438.3,337.6 438.6,339.9 439.0,338.2 439.3,339.5 439.7,340.5 440.1,340.0 440.4,339.6 440.8,340.2 441.1,340.7 441.5,340.6 441.8,341.4 442.2,339.6 442.5,339.2 442.9,338.8 443.2,341.7 443.6,338.7 443.9,339.6 444.3,341.2 444.6,339.4 445.0,338.6 445.3,338.8 445.7,338.6 446.0,338.2 446.4,338.2 446.7,339.2 447.1,341.6 447.4,339.9 447.8,338.5 448.1,339.4 448.5,337.8 448.8,337.5 449.2,338.2 449.5,335.8 449.9,339.0 450.2,336.4 450.6,337.7 451.0,337.7 451.3,335.5 451.7,336.4 452.0,333.9 452.4,335.7 452.7,333.3 453.1,333.5 453.4,331.6 453.8,330.7 454.1,330.6 454.5,326.8 454.8,328.5 455.2,327.2 455.5,323.6 455.9,323.1 456.2,323.6 456.6,324.5 456.9,322.3 457.3,328.6 457.6,328.9 458.0,330.4 458.3,328.7 458.7,330.6 459.0,330.4 459.4,331.4 459.7,333.7 460.1,335.1 460.4,335.7 460.8,331.9 461.2,333.7 461.5,334.3 461.9,335.5 462.2,335.3 462.6,335.2 462.9,334.9 463.3,337.2 463.6,333.6 464.0,333.3 464.3,331.6 464.7,330.8 465.0,328.9 465.4,329.0 465.7,326.7 466.1,330.6 466.4,327.4 466.8,322.3 467.1,326.4 467.5,324.8 467.8,323.5 468.2,326.6 468.5,325.1 468.9,329.5 469.2,331.4 469.6,331.7 469.9,333.4 470.3,332.2 470.6,333.6 471.0,333.7 471.3,336.3 471.7,332.4 472.1,336.4 472.4,336.8 472.8,336.7 473.1,337.9 473.5,338.7 473.8,338.2 474.2,337.4 474.5,338.0 474.9,337.8 475.2,339.7 475.6,340.1 475.9,337.0 476.3,339.7 476.6,339.0 477.0,338.8 477.3,338.1 477.7,341.3 478.0,340.4 478.4,340.4 478.7,340.3 479.1,342.7 479.4,340.1 479.8,343.4 480.1,339.8 480.5,339.5 480.8,339.5 481.2,341.5 481.5,339.1 481.9,341.2 482.3,341.6 482.6,341.3 483.0,341.2 483.3,340.1 483.7,339.3 484.0,342.6 484.4,340.9 484.7,339.2 485.1,340.0 485.4,339.6 485.8,341.9 486.1,339.1 486.5,341.9 486.8,339.9 487.2,338.5 487.5,337.9 487.9,339.4 488.2,338.9 488.6,340.6 488.9,340.4 489.3,338.4 489.6,339.7 490.0,339.7 490.3,341.1 490.7,339.2 491.0,338.5 491.4,340.0 491.7,339.5 492.1,336.9 492.4,338.3 492.8,338.6 493.2,339.4 493.5,338.4 493.9,337.6 494.2,335.2 494.6,337.1 494.9,333.5 495.3,336.3 495.6,334.8 496.0,332.3 496.3,332.7 496.7,332.4 497.0,330.2 497.4,328.0 497.7,329.7 498.1,325.9 498.4,324.0 498.8,322.8 499.1,319.4 499.5,320.2 499.8,318.7 500.2,317.3 500.5,315.8 500.9,317.6 501.2,315.3 501.6,320.4 501.9,318.0 502.3,323.0 502.6,323.2 503.0,323.8 503.4,322.4 503.7,325.4 504.1,328.3 504.4,326.7 504.8,329.6 505.1,330.9 505.5,329.6 505.8,330.4 506.2,329.5 506.5,332.0 506.9,331.0 507.2,331.1 507.6,332.0 507.9,333.0 508.3,334.5 508.6,333.1 509.0,334.8 509.3,335.0 509.7,336.7 510.0,336.9 510.4,338.7 510.7,337.9 511.1,337.6 511.4,338.8 511.8,338.3 512.1,339.3 512.5,338.4 512.8,340.5 513.2,342.3 513.5,340.2 513.9,341.1 514.3,342.1 514.6,340.5 515.0,341.0 515.3,341.0 515.7,341.9 516.0,341.4 516.4,341.5 516.7,339.9 517.1,342.6 517.4,342.0 517.8,341.7 518.1,344.0 518.5,343.9 518.8,339.9 519.2,344.2 519.5,341.8 519.9,343.3 520.2,343.3 520.6,344.6 520.9,343.5 521.3,341.8 521.6,344.1 522.0,342.1 522.3,342.4 522.7,340.7 523.0,343.3 523.4,341.6 523.7,342.0 524.1,343.3 524.5,344.7 524.8,341.5 525.2,344.5 525.5,343.6 525.9,342.3 526.2,342.1 526.6,344.1 526.9,343.3 527.3,343.6 527.6,342.1 528.0,340.8 528.3,345.3 528.7,342.5 529.0,346.4 529.4,343.5 529.7,344.7 530.1,341.6 530.4,343.4 530.8,344.4 531.1,344.2 531.5,344.3 531.8,343.6 532.2,343.9 532.5,343.2 532.9,342.3 533.2,343.2 533.6,345.1 533.9,345.6 534.3,344.7 534.6,343.0 535.0,344.4" fill="none" stroke="#f00" stroke-width="1.6" stroke-linejoin="round"/>
<polyline points="113.0,286.2 113.4,288.9 113.7,289.4 114.1,295.5 114.4,285.1 114.8,287.6 115.1,292.1 115.5,289.9 115.8,291.9 116.2,294.6 116.5,291.3 116.9,295.2 117.2,295.8 117.6,297.5 117.9,294.9 118.3,296.8 118.6,295.7 119.0,299.0 119.3,297.7 119.7,300.6 120.0,296.8 120.4,298.8 120.7,298.8 121.1,299.0 121.4,302.8 121.8,298.9 122.1,296.3 122.5,305.4 122.8,305.9 123.2,305.7 123.6,300.6 123.9,302.5 124.3,300.7 124.6,301.8 125.0,303.3 125.3,303.4 125.7,304.8 126.0,302.7 126.4,307.5 126.7,306.2 127.1,304.9 127.4,301.6 127.8,307.7 128.1,308.7 128.5,307.7 128.8,304.5 129.2,307.4 129.5,304.2 129.9,311.5 130.2,305.0 130.6,305.4 130.9,311.1 131.3,307.8 131.6,305.6 132.0,308.3 132.3,306.4 132.7,303.5 133.0,308.3 133.4,309.7 133.7,310.9 134.1,307.9 134.5,309.9 134.8,309.9 135.2,309.9 135.5,308.3 135.9,312.1 136.2,313.2 136.6,315.2 136.9,307.3 137.3,309.7 137.6,306.6 138.0,309.8 138.3,311.4 138.7,308.6 139.0,309.7 139.4,312.1 139.7,311.1 140.1,304.9 140.4,307.7 140.8,307.2 141.1,308.3 141.5,308.8 141.8,304.6 142.2,306.1 142.5,306.8 142.9,304.5 143.2,305.2 143.6,301.3 143.9,297.5 144.3,300.5 144.7,292.7 145.0,295.3 145.4,290.1 145.7,288.8 146.1,282.3 146.4,275.5 146.8,269.3 147.1,260.5 147.5,248.0 147.8,232.6 148.2,215.1 148.5,184.3 148.9,151.0 149.2,116.7 149.6,92.2 149.9,72.8 150.3,94.4 150.6,124.3 151.0,145.8 151.3,189.5 151.7,207.6 152.0,235.7 152.4,247.5 152.7,267.6 153.1,268.8 153.4,279.8 153.8,288.2 154.1,286.3 154.5,292.9 154.8,298.1 155.2,302.8 155.6,303.5 155.9,305.8 156.3,305.5 156.6,306.8 157.0,311.3 157.3,312.2 157.7,313.1 158.0,315.7 158.4,314.9 158.7,314.5 159.1,313.5 159.4,312.8 159.8,317.7 160.1,315.4 160.5,317.8 160.8,313.1 161.2,317.7 161.5,316.9 161.9,320.1 162.2,320.1 162.6,318.4 162.9,319.8 163.3,318.5 163.6,322.5 164.0,318.3 164.3,321.6 164.7,316.7 165.0,320.7 165.4,318.2 165.8,323.1 166.1,319.8 166.5,322.5 166.8,321.8 167.2,321.0 167.5,321.8 167.9,320.8 168.2,320.0 168.6,320.3 168.9,321.8 169.3,324.3 169.6,323.4 170.0,322.4 170.3,326.1 170.7,320.8 171.0,322.8 171.4,322.9 171.7,320.8 172.1,321.4 172.4,322.4 172.8,324.8 173.1,322.4 173.5,322.5 173.8,324.9 174.2,321.4 174.5,322.5 174.9,327.2 175.2,323.5 175.6,326.1 175.9,321.8 176.3,322.5 176.7,326.1 177.0,325.8 177.4,324.2 177.7,324.9 178.1,321.8 178.4,323.3 178.8,325.3 179.1,323.8 179.5,328.6 179.8,324.5 180.2,323.6 180.5,325.6 180.9,326.6 181.2,324.4 181.6,322.1 181.9,325.3 182.3,327.8 182.6,323.3 183.0,329.3 183.3,325.2 183.7,327.2 184.0,324.6 184.4,327.9 184.7,324.2 185.1,326.1 185.4,329.7 185.8,330.3 186.1,327.5 186.5,324.8 186.9,326.9 187.2,327.1 187.6,327.7 187.9,326.1 188.3,326.9 188.6,327.1 189.0,329.4 189.3,325.8 189.7,325.5 190.0,330.2 190.4,324.1 190.7,326.9 191.1,329.1 191.4,331.6 191.8,327.3 192.1,327.5 192.5,329.6 192.8,331.7 193.2,326.8 193.5,329.8 193.9,329.6 194.2,324.1 194.6,325.4 194.9,327.5 195.3,329.9 195.6,328.1 196.0,333.1 196.3,329.2 196.7,330.7 197.0,331.6 197.4,332.2 197.8,328.7 198.1,329.5 198.5,329.5 198.8,328.4 199.2,331.3 199.5,332.0 199.9,332.9 200.2,330.6 200.6,328.9 200.9,330.4 201.3,329.2 201.6,332.3 202.0,331.1 202.3,331.7 202.7,332.6 203.0,327.5 203.4,329.3 203.7,332.0 204.1,332.0 204.4,330.9 204.8,333.3 205.1,330.3 205.5,333.1 205.8,331.7 206.2,332.8 206.5,332.0 206.9,333.5 207.2,333.9 207.6,333.0 208.0,332.6 208.3,332.1 208.7,331.5 209.0,329.3 209.4,330.5 209.7,332.3 210.1,330.8 210.4,333.1 210.8,329.7 211.1,331.2 211.5,334.3 211.8,331.0 212.2,331.0 212.5,336.6 212.9,333.6 213.2,333.2 213.6,335.5 213.9,334.2 214.3,334.1 214.6,331.9 215.0,332.2 215.3,328.6 215.7,333.4 216.0,331.0 216.4,332.8 216.7,332.5 217.1,334.8 217.4,336.0 217.8,334.2 218.1,331.9 218.5,330.7 218.9,332.2 219.2,332.4 219.6,334.5 219.9,330.9 220.3,331.2 220.6,334.1 221.0,333.4 221.3,334.9 221.7,331.1 222.0,332.7 222.4,333.5 222.7,332.7 223.1,332.6 223.4,333.9 223.8,335.2 224.1,335.2 224.5,335.9 224.8,332.4 225.2,329.6 225.5,335.6 225.9,332.6 226.2,332.0 226.6,334.1 226.9,332.0 227.3,333.8 227.6,329.8 228.0,332.3 228.3,330.7 228.7,329.1 229.1,330.2 229.4,331.6 229.8,328.4 230.1,324.8 230.5,324.8 230.8,322.6 231.2,323.4 231.5,319.5 231.9,317.1 232.2,317.8 232.6,313.9 232.9,318.4 233.3,320.6 233.6,322.3 234.0,317.3 234.3,319.6 234.7,317.0 235.0,317.0 235.4,312.7 235.7,310.7 236.1,310.7 236.4,304.8 236.8,297.7 237.1,297.7 237.5,285.5 237.8,282.0 238.2,281.0 238.5,285.7 238.9,288.3 239.2,297.1 239.6,299.6 240.0,306.1 240.3,308.7 240.7,313.1 241.0,313.8 241.4,313.4 241.7,319.2 242.1,314.9 242.4,320.6 242.8,320.7 243.1,316.5 243.5,316.6 243.8,316.7 244.2,322.3 244.5,321.0 244.9,322.5 245.2,322.3 245.6,326.5 245.9,326.8 246.3,330.7 246.6,330.4 247.0,331.7 247.3,330.6 247.7,333.9 248.0,334.1 248.4,332.3 248.7,330.8 249.1,333.2 249.4,333.6 249.8,334.8 250.2,332.8 250.5,333.8 250.9,332.1 251.2,334.4 251.6,336.4 251.9,336.0 252.3,336.7 252.6,337.2 253.0,333.5 253.3,334.3 253.7,337.4 254.0,333.0 254.4,335.3 254.7,337.2 255.1,335.2 255.4,336.0 255.8,337.1 256.1,338.8 256.5,336.0 256.8,335.6 257.2,339.9 257.5,335.3 257.9,335.3 258.2,336.9 258.6,336.1 258.9,336.7 259.3,337.5 259.6,336.9 260.0,334.4 260.3,338.5 260.7,336.1 261.1,336.2 261.4,337.5 261.8,337.2 262.1,338.6 262.5,337.8 262.8,336.6 263.2,336.2 263.5,337.9 263.9,332.3 264.2,337.5 264.6,336.5 264.9,337.1 265.3,337.3 265.6,334.9 266.0,337.5 266.3,334.9 266.7,335.2 267.0,338.3 267.4,335.4 267.7,337.8 268.1,333.0 268.4,337.4 268.8,338.2 269.1,339.6 269.5,338.8 269.8,337.8 270.2,338.4 270.5,338.7 270.9,338.0 271.3,337.3 271.6,334.9 272.0,339.4 272.3,337.8 272.7,338.4 273.0,339.2 273.4,338.8 273.7,338.3 274.1,336.0 274.4,337.3 274.8,337.8 275.1,336.2 275.5,336.7 275.8,337.4 276.2,336.6 276.5,338.3 276.9,336.2 277.2,336.5 277.6,337.7 277.9,338.9 278.3,335.0 278.6,337.0 279.0,332.8 279.3,338.1 279.7,336.0 280.0,337.8 280.4,336.8 280.7,336.0 281.1,338.3 281.4,337.3 281.8,337.0 282.2,337.1 282.5,336.4 282.9,335.8 283.2,336.0 283.6,336.9 283.9,337.7 284.3,338.8 284.6,338.3 285.0,338.0 285.3,336.3 285.7,337.7 286.0,339.0 286.4,336.3 286.7,338.4 287.1,338.3 287.4,337.5 287.8,336.5 288.1,340.6 288.5,338.8 288.8,336.9 289.2,337.7 289.5,338.4 289.9,337.9 290.2,335.2 290.6,337.8 290.9,336.1 291.3,336.0 291.6,337.7 292.0,336.4 292.4,337.7 292.7,337.9 293.1,338.6 293.4,335.7 293.8,337.5 294.1,337.7 294.5,338.4 294.8,334.2 295.2,335.7 295.5,336.9 295.9,337.6 296.2,338.8 296.6,336.1 296.9,336.0 297.3,338.4 297.6,334.6 298.0,335.0 298.3,337.4 298.7,336.7 299.0,336.4 299.4,335.4 299.7,335.7 300.1,337.7 300.4,332.8 300.8,334.3 301.1,332.6 301.5,332.3 301.8,334.2 302.2,333.0 302.5,332.0 302.9,331.4 303.3,332.3 303.6,332.4 304.0,330.6 304.3,331.1 304.7,329.6 305.0,330.9 305.4,325.6 305.7,325.7 306.1,322.5 306.4,318.5 306.8,314.0 307.1,306.0 307.5,304.0 307.8,301.3 308.2,289.6 308.5,282.7 308.9,270.4 309.2,264.6 309.6,257.4 309.9,252.9 310.3,253.7 310.6,262.3 311.0,266.4 311.3,273.7 311.7,279.8 312.0,292.6 312.4,300.4 312.7,304.7 313.1,310.3 313.5,312.6 313.8,318.3 314.2,322.4 314.5,322.3 314.9,324.0 315.2,329.0 315.6,329.2 315.9,333.3 316.3,332.0 316.6,333.6 317.0,333.2 317.3,334.2 317.7,334.3 318.0,334.6 318.4,334.1 318.7,334.9 319.1,336.4 319.4,337.7 319.8,334.3 320.1,334.3 320.5,337.2 320.8,335.9 321.2,339.1 321.5,339.3 321.9,337.7 322.2,335.4 322.6,339.0 322.9,338.9 323.3,335.6 323.6,340.6 324.0,337.2 324.4,337.5 324.7,338.6 325.1,338.1 325.4,334.9 325.8,340.1 326.1,339.1 326.5,339.0 326.8,339.7 327.2,340.7 327.5,336.8 327.9,338.7 328.2,341.4 328.6,340.0 328.9,338.6 329.3,338.6 329.6,341.1 330.0,339.3 330.3,338.9 330.7,338.7 331.0,338.7 331.4,341.7 331.7,336.8 332.1,339.0 332.4,336.8 332.8,335.4 333.1,339.4 333.5,340.8 333.8,338.0 334.2,339.4 334.6,339.7 334.9,340.5 335.3,336.8 335.6,339.6 336.0,340.8 336.3,339.5 336.7,340.4 337.0,338.6 337.4,339.3 337.7,340.1 338.1,337.7 338.4,339.3 338.8,337.3 339.1,336.5 339.5,338.6 339.8,338.9 340.2,337.5 340.5,336.4 340.9,337.5 341.2,337.1 341.6,337.1 341.9,336.3 342.3,335.6 342.6,337.2 343.0,336.6 343.3,335.4 343.7,336.0 344.0,334.3 344.4,333.1 344.7,333.3 345.1,333.4 345.5,332.8 345.8,327.6 346.2,327.7 346.5,329.6 346.9,327.3 347.2,320.3 347.6,318.4 347.9,318.3 348.3,313.0 348.6,315.0 349.0,307.9 349.3,302.1 349.7,304.1 350.0,297.7 350.4,290.4 350.7,287.1 351.1,290.6 351.4,288.6 351.8,286.9 352.1,294.6 352.5,300.1 352.8,300.2 353.2,304.1 353.5,303.1 353.9,308.1 354.2,312.0 354.6,306.3 354.9,313.1 355.3,310.9 355.7,309.8 356.0,308.2 356.4,307.6 356.7,304.1 357.1,302.5 357.4,302.3 357.8,295.7 358.1,292.0 358.5,288.8 358.8,285.6 359.2,286.6 359.5,281.8 359.9,283.1 360.2,296.2 360.6,294.5 360.9,300.6 361.3,309.5 361.6,306.8 362.0,313.0 362.3,316.1 362.7,319.8 363.0,319.2 363.4,321.4 363.7,325.3 364.1,326.3 364.4,329.2 364.8,330.0 365.1,332.5 365.5,332.2 365.8,334.1 366.2,333.1 366.6,333.0 366.9,334.2 367.3,333.4 367.6,331.6 368.0,339.0 368.3,336.2 368.7,337.3 369.0,337.4 369.4,338.9 369.7,337.1 370.1,337.7 370.4,338.4 370.8,338.0 371.1,338.7 371.5,341.2 371.8,336.6 372.2,338.6 372.5,339.6 372.9,338.0 373.2,339.4 373.6,341.6 373.9,337.5 374.3,341.0 374.6,339.1 375.0,338.7 375.3,337.1 375.7,337.4 376.0,338.9 376.4,340.2 376.8,339.7 377.1,337.8 377.5,336.9 377.8,338.6 378.2,340.2 378.5,338.0 378.9,339.9 379.2,340.0 379.6,339.9 379.9,338.7 380.3,339.2 380.6,338.2 381.0,337.9 381.3,338.9 381.7,342.7 382.0,341.9 382.4,339.5 382.7,339.8 383.1,336.8 383.4,339.7 383.8,339.9 384.1,338.5 384.5,338.3 384.8,340.1 385.2,339.1 385.5,341.3 385.9,341.0 386.2,338.2 386.6,341.6 386.9,338.6 387.3,338.9 387.7,338.8 388.0,338.6 388.4,339.1 388.7,342.6 389.1,341.1 389.4,340.6 389.8,338.6 390.1,341.3 390.5,340.7 390.8,340.3 391.2,338.0 391.5,341.7 391.9,341.5 392.2,338.9 392.6,342.5 392.9,339.3 393.3,340.3 393.6,341.8 394.0,340.2 394.3,341.0 394.7,339.4 395.0,339.1 395.4,337.6 395.7,339.6 396.1,339.4 396.4,340.3 396.8,339.5 397.1,338.0 397.5,341.9 397.9,338.4 398.2,340.0 398.6,339.1 398.9,338.7 399.3,338.0 399.6,338.7 400.0,339.5 400.3,338.4 400.7,338.8 401.0,339.0 401.4,338.3 401.7,337.3 402.1,338.1 402.4,338.0 402.8,339.8 403.1,338.0 403.5,340.3 403.8,336.4 404.2,338.5 404.5,335.1 404.9,332.3 405.2,336.9 405.6,333.9 405.9,334.8 406.3,335.8 406.6,335.6 407.0,332.8 407.3,330.7 407.7,331.4 408.0,333.3 408.4,331.4 408.8,328.6 409.1,324.2 409.5,324.3 409.8,322.1 410.2,318.0 410.5,318.2 410.9,315.4 411.2,312.8 411.6,313.8 411.9,306.6 412.3,305.0 412.6,302.9 413.0,308.0 413.3,308.1 413.7,306.0 414.0,309.7 414.4,310.1 414.7,317.5 415.1,318.0 415.4,322.2 415.8,322.6 416.1,326.0 416.5,326.0 416.8,326.7 417.2,328.8 417.5,334.1 417.9,330.7 418.2,332.4 418.6,335.4 419.0,335.8 419.3,335.1 419.7,334.7 420.0,336.7 420.4,338.7 420.7,336.3 421.1,336.8 421.4,333.9 421.8,339.4 422.1,334.2 422.5,335.5 422.8,337.7 423.2,336.0 423.5,338.3 423.9,337.2 424.2,339.7 424.6,338.7 424.9,340.3 425.3,341.1 425.6,339.5 426.0,340.1 426.3,338.5 426.7,337.6 427.0,339.6 427.4,339.3 427.7,339.2 428.1,341.8 428.4,339.2 428.8,339.6 429.1,339.7 429.5,341.2 429.9,342.4 430.2,340.1 430.6,339.4 430.9,338.1 431.3,338.4 431.6,338.0 432.0,339.4 432.3,338.4 432.7,340.2 433.0,339.2 433.4,338.8 433.7,336.5 434.1,339.7 434.4,341.7 434.8,338.3 435.1,341.1 435.5,340.2 435.8,340.5 436.2,341.3 436.5,338.4 436.9,339.4 437.2,340.9 437.6,340.1 437.9,340.7 438.3,339.4 438.6,340.7 439.0,341.2 439.3,341.0 439.7,340.8 440.1,339.8 440.4,341.4 440.8,340.3 441.1,339.6 441.5,337.1 441.8,339.0 442.2,344.0 442.5,340.8 442.9,340.6 443.2,339.7 443.6,338.0 443.9,339.1 444.3,343.0 444.6,339.6 445.0,339.8 445.3,339.4 445.7,338.1 446.0,341.3 446.4,338.3 446.7,341.9 447.1,339.5 447.4,339.0 447.8,336.4 448.1,340.2 448.5,341.4 448.8,338.1 449.2,339.7 449.5,336.5 449.9,339.3 450.2,339.3 450.6,336.0 451.0,337.2 451.3,335.4 451.7,338.3 452.0,333.2 452.4,335.8 452.7,332.9 453.1,334.8 453.4,334.7 453.8,331.7 454.1,330.0 454.5,326.7 454.8,327.9 455.2,326.6 455.5,326.4 455.9,322.1 456.2,329.2 456.6,326.3 456.9,329.4 457.3,329.6 457.6,331.9 458.0,330.0 458.3,334.7 458.7,335.5 459.0,334.4 459.4,336.4 459.7,334.1 460.1,334.1 460.4,336.8 460.8,334.8 461.2,336.9 461.5,336.0 461.9,335.8 462.2,332.8 462.6,335.2 462.9,336.1 463.3,335.6 463.6,331.6 464.0,335.3 464.3,332.5 464.7,331.4 465.0,333.7 465.4,329.3 465.7,325.6 466.1,325.9 466.4,327.1 466.8,323.7 467.1,323.9 467.5,321.4 467.8,327.0 468.2,327.2 468.5,327.6 468.9,329.1 469.2,330.0 469.6,331.5 469.9,333.6 470.3,336.0 470.6,335.3 471.0,337.3 471.3,337.5 471.7,337.4 472.1,336.4 472.4,336.4 472.8,339.5 473.1,337.9 473.5,337.6 473.8,339.0 474.2,341.3 474.5,342.2 474.9,338.4 475.2,338.4 475.6,339.4 475.9,341.2 476.3,338.0 476.6,338.4 477.0,340.2 477.3,340.5 477.7,342.8 478.0,339.3 478.4,342.4 478.7,339.5 479.1,339.5 479.4,340.3 479.8,338.5 480.1,340.9 480.5,339.8 480.8,339.5 481.2,340.3 481.5,341.1 481.9,339.0 482.3,340.1 482.6,340.9 483.0,340.8 483.3,340.5 483.7,337.7 484.0,340.5 484.4,340.9 484.7,342.0 485.1,342.2 485.4,343.0 485.8,340.2 486.1,340.5 486.5,341.8 486.8,342.4 487.2,340.8 487.5,341.1 487.9,342.1 488.2,339.9 488.6,340.0 488.9,340.2 489.3,339.0 489.6,340.8 490.0,338.1 490.3,341.1 490.7,338.9 491.0,338.6 491.4,339.7 491.7,338.7 492.1,340.6 492.4,340.7 492.8,338.7 493.2,339.1 493.5,336.8 493.9,337.2 494.2,335.8 494.6,335.6 494.9,335.1 495.3,334.5 495.6,334.3 496.0,333.4 496.3,328.3 496.7,333.2 497.0,329.2 497.4,325.6 497.7,325.0 498.1,321.5 498.4,321.3 498.8,323.2 499.1,319.9 499.5,320.9 499.8,315.3 500.2,314.1 500.5,318.1 500.9,316.7 501.2,319.6 501.6,322.9 501.9,322.3 502.3,325.9 502.6,325.4 503.0,325.3 503.4,325.6 503.7,325.7 504.1,329.3 504.4,329.1 504.8,329.4 505.1,329.7 505.5,335.6 505.8,332.5 506.2,330.3 506.5,333.7 506.9,332.0 507.2,331.5 507.6,336.3 507.9,334.3 508.3,334.3 508.6,335.3 509.0,338.2 509.3,336.2 509.7,338.1 510.0,336.7 510.4,337.8 510.7,339.6 511.1,339.1 511.4,340.6 511.8,341.0 512.1,342.4 512.5,341.0 512.8,339.9 513.2,341.0 513.5,341.3 513.9,342.3 514.3,342.3 514.6,340.8 515.0,343.7 515.3,339.4 515.7,342.2 516.0,339.5 516.4,340.8 516.7,342.8 517.1,341.5 517.4,342.2 517.8,342.0 518.1,341.7 518.5,343.3 518.8,343.5 519.2,343.3 519.5,344.5 519.9,343.2 520.2,342.7 520.6,342.7 520.9,342.8 521.3,343.6 521.6,342.2 522.0,345.7 522.3,343.7 522.7,343.7 523.0,342.3 523.4,342.6 523.7,342.5 524.1,343.5 524.5,342.4 524.8,344.7 525.2,343.5 525.5,346.1 525.9,341.7 526.2,341.9 526.6,344.5 526.9,344.8 527.3,346.3 527.6,345.6 528.0,343.8 528.3,344.1 528.7,345.7 529.0,344.6 529.4,344.8 529.7,343.5 530.1,343.3 530.4,344.4 530.8,344.0 531.1,344.2 531.5,346.6 531.8,344.1 532.2,344.4 532.5,343.5 532.9,346.5 533.2,343.5 533.6,345.2 533.9,344.2 534.3,343.1 534.6,346.2 535.0,346.0" fill="none" stroke="#00f" stroke-width="1.6" stroke-linejoin="round"/>
<polyline points="113.0,280.7 113.4,293.8 113.7,286.7 114.1,290.0 114.4,290.5 114.8,290.6 115.1,295.9 115.5,292.0 115.8,294.2 116.2,284.2 116.5,292.7 116.9,294.7 117.2,295.1 117.6,296.6 117.9,298.1 118.3,297.0 118.6,295.3 119.0,297.5 119.3,295.1 119.7,298.3 120.0,298.2 120.4,294.9 120.7,297.8 121.1,300.7 121.4,300.3 121.8,298.9 122.1,296.0 122.5,301.6 122.8,301.9 123.2,299.3 123.6,304.1 123.9,303.0 124.3,300.5 124.6,301.6 125.0,303.0 125.3,302.0 125.7,310.4 126.0,301.7 126.4,306.6 126.7,308.5 127.1,304.3 127.4,303.6 127.8,306.4 128.1,308.1 128.5,305.8 128.8,306.3 129.2,303.2 129.5,304.9 129.9,306.3 130.2,304.5 130.6,307.6 130.9,309.4 131.3,306.3 131.6,306.4 132.0,308.4 132.3,309.8 132.7,307.7 133.0,313.9 133.4,307.0 133.7,307.6 134.1,312.4 134.5,308.8 134.8,311.1 135.2,307.4 135.5,313.6 135.9,311.2 136.2,307.7 136.6,306.8 136.9,314.1 137.3,310.4 137.6,308.6 138.0,310.6 138.3,305.7 138.7,311.7 139.0,308.2 139.4,311.1 139.7,305.5 140.1,308.3 140.4,308.8 140.8,311.4 141.1,303.4 141.5,305.0 141.8,304.3 142.2,302.8 142.5,303.7 142.9,305.1 143.2,304.4 143.6,303.1 143.9,296.4 144.3,301.5 144.7,297.2 145.0,293.9 145.4,289.3 145.7,284.5 146.1,284.6 146.4,280.1 146.8,267.5 147.1,253.9 147.5,242.7 147.8,228.3 148.2,209.7 148.5,181.4 148.9,153.4 149.2,116.6 149.6,99.1 149.9,84.4 150.3,96.1 150.6,118.9 151.0,152.7 151.3,173.9 151.7,205.0 152.0,226.4 152.4,254.9 152.7,262.0 153.1,272.7 153.4,277.3 153.8,291.2 154.1,287.1 154.5,291.6 154.8,300.8 155.2,302.8 155.6,304.7 155.9,304.8 156.3,305.1 156.6,303.5 157.0,309.8 157.3,308.8 157.7,311.1 158.0,308.6 158.4,311.5 158.7,310.9 159.1,316.6 159.4,315.3 159.8,317.1 160.1,312.8 160.5,315.0 160.8,317.3 161.2,318.0 161.5,316.4 161.9,319.1 162.2,319.8 162.6,317.3 162.9,313.6 163.3,319.2 163.6,320.0 164.0,321.4 164.3,321.9 164.7,318.4 165.0,317.9 165.4,319.7 165.8,319.3 166.1,319.8 166.5,319.9 166.8,323.3 167.2,321.3 167.5,320.4 167.9,322.2 168.2,321.8 168.6,322.5 168.9,321.7 169.3,319.6 169.6,322.1 170.0,321.7 170.3,320.0 170.7,320.5 171.0,318.6 171.4,325.8 171.7,320.4 172.1,323.0 172.4,322.0 172.8,320.8 173.1,320.4 173.5,320.6 173.8,322.4 174.2,319.8 174.5,323.4 174.9,323.3 175.2,321.7 175.6,324.3 175.9,319.4 176.3,321.6 176.7,319.6 177.0,323.7 177.4,324.5 177.7,323.6 178.1,322.7 178.4,325.2 178.8,323.5 179.1,324.3 179.5,321.5 179.8,325.7 180.2,322.7 180.5,325.9 180.9,326.5 181.2,326.2 181.6,327.1 181.9,324.8 182.3,323.4 182.6,325.0 183.0,324.3 183.3,322.6 183.7,325.1 184.0,325.4 184.4,326.3 184.7,328.8 185.1,324.7 185.4,329.3 185.8,325.1 186.1,326.4 186.5,324.5 186.9,326.7 187.2,328.1 187.6,326.1 187.9,327.8 188.3,327.3 188.6,327.0 189.0,327.4 189.3,327.6 189.7,328.8 190.0,327.8 190.4,331.2 190.7,327.9 191.1,329.7 191.4,325.8 191.8,325.7 192.1,331.3 192.5,327.8 192.8,328.3 193.2,329.9 193.5,327.3 193.9,329.1 194.2,331.4 194.6,328.9 194.9,328.8 195.3,328.4 195.6,330.7 196.0,327.7 196.3,327.5 196.7,330.8 197.0,330.0 197.4,329.1 197.8,330.0 198.1,326.2 198.5,328.8 198.8,330.9 199.2,330.6 199.5,329.5 199.9,325.6 200.2,329.8 200.6,329.4 200.9,328.8 201.3,329.8 201.6,326.0 202.0,330.7 202.3,328.7 202.7,329.7 203.0,329.0 203.4,332.0 203.7,327.2 204.1,330.4 204.4,330.2 204.8,331.9 205.1,331.6 205.5,329.6 205.8,329.0 206.2,329.4 206.5,328.7 206.9,329.6 207.2,330.8 207.6,329.6 208.0,330.0 208.3,331.2 208.7,329.9 209.0,329.1 209.4,330.9 209.7,331.9 210.1,330.2 210.4,328.4 210.8,331.8 211.1,331.7 211.5,331.8 211.8,329.7 212.2,334.7 212.5,331.2 212.9,329.9 213.2,333.2 213.6,329.6 213.9,331.2 214.3,332.9 214.6,331.8 215.0,334.6 215.3,333.1 215.7,329.4 216.0,333.7 216.4,329.4 216.7,332.5 217.1,330.9 217.4,332.4 217.8,336.0 218.1,333.4 218.5,332.3 218.9,334.4 219.2,334.8 219.6,332.1 219.9,333.7 220.3,335.4 220.6,333.8 221.0,331.4 221.3,333.5 221.7,331.3 222.0,330.4 222.4,332.7 222.7,334.6 223.1,334.8 223.4,332.8 223.8,331.3 224.1,332.3 224.5,331.8 224.8,333.3 225.2,332.0 225.5,333.1 225.9,332.8 226.2,334.2 226.6,334.5 226.9,332.6 227.3,333.3 227.6,332.8 228.0,329.8 228.3,330.5 228.7,324.9 229.1,327.5 229.4,329.2 229.8,325.6 230.1,325.1 230.5,325.5 230.8,320.6 231.2,322.4 231.5,325.4 231.9,316.6 232.2,318.7 232.6,314.4 232.9,319.0 233.3,320.6 233.6,315.8 234.0,321.3 234.3,318.8 234.7,315.8 235.0,317.3 235.4,315.9 235.7,312.9 236.1,307.8 236.4,307.1 236.8,298.7 237.1,293.1 237.5,283.2 237.8,286.2 238.2,286.3 238.5,283.2 238.9,290.1 239.2,293.5 239.6,299.3 240.0,301.9 240.3,310.1 240.7,312.0 241.0,319.4 241.4,317.4 241.7,313.1 242.1,317.8 242.4,317.7 242.8,318.5 243.1,314.8 243.5,316.0 243.8,319.7 244.2,317.4 244.5,320.0 244.9,321.0 245.2,325.3 245.6,322.8 245.9,326.6 246.3,328.8 246.6,330.5 247.0,330.9 247.3,329.8 247.7,332.2 248.0,330.6 248.4,331.8 248.7,330.9 249.1,332.0 249.4,333.6 249.8,336.6 250.2,333.4 250.5,332.9 250.9,334.0 251.2,333.5 251.6,335.2 251.9,335.1 252.3,336.1 252.6,332.7 253.0,334.6 253.3,335.7 253.7,337.0 254.0,335.3 254.4,333.0 254.7,334.5 255.1,336.3 255.4,333.2 255.8,333.3 256.1,334.0 256.5,334.3 256.8,333.8 257.2,334.8 257.5,334.5 257.9,336.8 258.2,333.5 258.6,335.4 258.9,332.8 259.3,338.8 259.6,334.8 260.0,334.4 260.3,336.4 260.7,335.2 261.1,334.8 261.4,335.1 261.8,336.8 262.1,336.2 262.5,334.5 262.8,334.2 263.2,335.9 263.5,336.0 263.9,335.8 264.2,334.6 264.6,337.7 264.9,338.1 265.3,336.0 265.6,337.8 266.0,337.1 266.3,336.1 266.7,335.6 267.0,337.8 267.4,335.1 267.7,338.9 268.1,335.5 268.4,338.6 268.8,338.2 269.1,335.4 269.5,337.0 269.8,337.5 270.2,337.0 270.5,335.7 270.9,336.5 271.3,336.5 271.6,334.9 272.0,337.5 272.3,337.1 272.7,337.2 273.0,334.8 273.4,335.1 273.7,334.7 274.1,336.6 274.4,336.8 274.8,335.3 275.1,337.1 275.5,335.4 275.8,335.5 276.2,337.6 276.5,336.7 276.9,336.8 277.2,334.1 277.6,332.9 277.9,336.7 278.3,336.6 278.6,339.9 279.0,336.3 279.3,336.6 279.7,338.2 280.0,335.5 280.4,338.9 280.7,337.0 281.1,336.5 281.4,338.5 281.8,335.4 282.2,335.2 282.5,338.7 282.9,338.7 283.2,335.8 283.6,336.7 283.9,338.4 284.3,337.1 284.6,336.8 285.0,336.9 285.3,335.5 285.7,336.1 286.0,334.1 286.4,334.7 286.7,335.7 287.1,335.1 287.4,334.8 287.8,335.7 288.1,338.4 288.5,335.4 288.8,336.5 289.2,334.3 289.5,336.5 289.9,335.9 290.2,336.1 290.6,334.2 290.9,336.3 291.3,336.9 291.6,336.1 292.0,337.1 292.4,336.3 292.7,336.5 293.1,336.0 293.4,333.6 293.8,337.0 294.1,336.3 294.5,336.6 294.8,335.3 295.2,337.9 295.5,337.2 295.9,336.2 296.2,335.2 296.6,336.0 296.9,336.6 297.3,337.1 297.6,335.0 298.0,333.5 298.3,335.0 298.7,335.1 299.0,334.6 299.4,336.5 299.7,335.4 300.1,335.1 300.4,334.1 300.8,334.3 301.1,335.9 301.5,332.0 301.8,330.8 302.2,333.5 302.5,332.0 302.9,331.7 303.3,330.3 303.6,333.3 304.0,327.5 304.3,330.1 304.7,326.1 305.0,326.8 305.4,326.1 305.7,323.7 306.1,319.3 306.4,319.8 306.8,315.2 307.1,310.9 307.5,308.3 307.8,294.5 308.2,288.4 308.5,281.2 308.9,268.4 309.2,265.7 309.6,255.7 309.9,245.9 310.3,248.9 310.6,263.9 311.0,274.8 311.3,276.8 311.7,280.2 312.0,293.0 312.4,299.9 312.7,304.4 313.1,313.1 313.5,315.1 313.8,317.6 314.2,321.1 314.5,323.6 314.9,327.3 315.2,326.9 315.6,329.8 315.9,327.9 316.3,326.8 316.6,332.9 317.0,335.9 317.3,333.7 317.7,332.9 318.0,332.4 318.4,332.7 318.7,335.9 319.1,336.2 319.4,333.4 319.8,337.2 320.1,334.2 320.5,336.4 320.8,335.1 321.2,335.4 321.5,335.5 321.9,335.6 322.2,338.3 322.6,336.6 322.9,337.2 323.3,336.9 323.6,335.7 324.0,337.9 324.4,338.6 324.7,338.8 325.1,338.3 325.4,336.9 325.8,339.2 326.1,336.5 326.5,337.8 326.8,338.6 327.2,340.2 327.5,338.0 327.9,337.5 328.2,340.9 328.6,336.9 328.9,336.3 329.3,338.2 329.6,338.0 330.0,335.4 330.3,337.0 330.7,339.9 331.0,338.7 331.4,338.9 331.7,338.9 332.1,341.9 332.4,337.7 332.8,339.6 333.1,338.4 333.5,338.8 333.8,337.4 334.2,339.0 334.6,339.7 334.9,337.8 335.3,336.6 335.6,338.9 336.0,336.5 336.3,338.0 336.7,339.0 337.0,336.1 337.4,339.3 337.7,336.7 338.1,338.7 338.4,337.3 338.8,339.5 339.1,338.9 339.5,336.1 339.8,337.2 340.2,337.2 340.5,337.8 340.9,336.3 341.2,338.8 341.6,338.1 341.9,336.5 342.3,337.2 342.6,336.7 343.0,335.5 343.3,335.2 343.7,334.9 344.0,331.5 344.4,331.9 344.7,330.9 345.1,332.1 345.5,331.9 345.8,332.4 346.2,329.3 346.5,330.9 346.9,326.5 347.2,322.0 347.6,317.9 347.9,316.3 348.3,316.8 348.6,310.5 349.0,309.5 349.3,301.7 349.7,299.8 350.0,293.5 350.4,285.8 350.7,287.7 351.1,282.9 351.4,288.9 351.8,291.9 352.1,290.2 352.5,292.4 352.8,301.3 353.2,302.9 353.5,309.2 353.9,308.7 354.2,308.1 354.6,311.4 354.9,313.0 355.3,314.7 355.7,310.2 356.0,308.0 356.4,306.4 356.7,304.7 357.1,305.2 357.4,294.5 357.8,295.3 358.1,291.9 358.5,286.4 358.8,291.8 359.2,285.1 359.5,285.8 359.9,286.4 360.2,287.0 360.6,293.3 360.9,303.3 361.3,304.1 361.6,307.1 362.0,311.2 362.3,317.7 362.7,321.5 363.0,319.9 363.4,322.7 363.7,325.4 364.1,330.1 364.4,325.6 364.8,334.6 365.1,331.5 365.5,328.4 365.8,332.8 366.2,332.8 366.6,335.5 366.9,332.2 367.3,336.6 367.6,334.7 368.0,335.2 368.3,337.2 368.7,334.7 369.0,338.3 369.4,337.4 369.7,336.7 370.1,337.4 370.4,336.3 370.8,335.9 371.1,337.7 371.5,338.2 371.8,338.3 372.2,338.2 372.5,336.7 372.9,338.2 373.2,337.4 373.6,338.2 373.9,339.3 374.3,337.0 374.6,339.7 375.0,338.4 375.3,336.4 375.7,340.0 376.0,338.6 376.4,340.8 376.8,339.3 377.1,340.7 377.5,339.2 377.8,339.5 378.2,338.6 378.5,336.7 378.9,338.5 379.2,338.0 379.6,339.0 379.9,339.3 380.3,340.1 380.6,341.5 381.0,339.0 381.3,336.9 381.7,338.4 382.0,339.8 382.4,336.9 382.7,339.7 383.1,340.0 383.4,340.8 383.8,340.5 384.1,339.5 384.5,336.5 384.8,339.5 385.2,340.6 385.5,340.0 385.9,339.5 386.2,341.5 386.6,339.1 386.9,338.3 387.3,338.8 387.7,338.5 388.0,341.0 388.4,341.5 388.7,337.5 389.1,337.8 389.4,341.3 389.8,339.0 390.1,339.2 390.5,338.5 390.8,339.0 391.2,339.9 391.5,339.0 391.9,339.0 392.2,339.3 392.6,341.7 392.9,343.2 393.3,340.2 393.6,341.3 394.0,338.8 394.3,338.1 394.7,338.7 395.0,339.6 395.4,338.9 395.7,337.4 396.1,340.0 396.4,337.7 396.8,338.0 397.1,338.5 397.5,336.9 397.9,339.8 398.2,337.5 398.6,340.0 398.9,339.7 399.3,340.0 399.6,337.9 400.0,339.7 400.3,338.3 400.7,339.8 401.0,336.7 401.4,335.5 401.7,337.6 402.1,335.5 402.4,336.9 402.8,334.5 403.1,337.2 403.5,339.4 403.8,334.8 404.2,336.9 404.5,337.9 404.9,337.1 405.2,338.2 405.6,335.6 405.9,336.6 406.3,332.2 406.6,332.8 407.0,335.8 407.3,334.8 407.7,332.4 408.0,333.6 408.4,329.4 408.8,327.9 409.1,327.6 409.5,325.4 409.8,321.4 410.2,317.3 410.5,314.6 410.9,314.8 411.2,310.4 411.6,311.3 411.9,306.5 412.3,308.0 412.6,303.3 413.0,307.9 413.3,308.3 413.7,307.9 414.0,309.0 414.4,315.8 414.7,316.6 415.1,317.8 415.4,320.1 415.8,324.3 416.1,324.6 416.5,327.1 416.8,325.7 417.2,328.6 417.5,332.9 417.9,335.2 418.2,332.4 418.6,331.5 419.0,333.8 419.3,333.3 419.7,335.8 420.0,337.5 420.4,334.8 420.7,336.1 421.1,335.6 421.4,338.8 421.8,336.8 422.1,338.1 422.5,336.3 422.8,338.4 423.2,338.6 423.5,338.7 423.9,336.3 424.2,338.1 424.6,339.3 424.9,339.8 425.3,339.9 425.6,336.6 426.0,341.1 426.3,339.9 426.7,337.9 427.0,337.2 427.4,339.1 427.7,337.9 428.1,338.0 428.4,337.7 428.8,339.0 429.1,336.9 429.5,338.9 429.9,337.1 430.2,340.7 430.6,338.0 430.9,340.9 431.3,341.3 431.6,338.6 432.0,340.4 432.3,338.8 432.7,340.8 433.0,337.3 433.4,339.4 433.7,340.9 434.1,339.2 434.4,338.3 434.8,340.5 435.1,338.8 435.5,336.8 435.8,338.4 436.2,339.5 436.5,340.3 436.9,338.8 437.2,341.6 437.6,343.6 437.9,340.4 438.3,341.0 438.6,337.2 439.0,339.4 439.3,340.9 439.7,341.1 440.1,338.9 440.4,340.7 440.8,340.3 441.1,339.7 441.5,339.4 441.8,339.4 442.2,339.4 442.5,337.8 442.9,337.2 443.2,341.7 443.6,336.0 443.9,339.3 444.3,337.7 444.6,340.3 445.0,338.9 445.3,339.0 445.7,339.1 446.0,338.0 446.4,338.3 446.7,340.4 447.1,339.1 447.4,337.9 447.8,337.9 448.1,339.1 448.5,338.9 448.8,338.6 449.2,339.7 449.5,339.8 449.9,335.5 450.2,338.0 450.6,336.9 451.0,337.7 451.3,334.3 451.7,333.1 452.0,335.4 452.4,333.5 452.7,334.7 453.1,329.9 453.4,330.2 453.8,332.1 454.1,327.6 454.5,328.2 454.8,327.2 455.2,326.7 455.5,328.2 455.9,327.9 456.2,326.2 456.6,328.0 456.9,330.3 457.3,326.2 457.6,330.8 458.0,332.2 458.3,333.3 458.7,331.8 459.0,332.1 459.4,333.7 459.7,333.2 460.1,337.1 460.4,335.7 460.8,336.0 461.2,335.4 461.5,334.6 461.9,338.2 462.2,330.3 462.6,335.9 462.9,333.6 463.3,332.3 463.6,331.6 464.0,331.7 464.3,335.9 464.7,332.0 465.0,327.8 465.4,329.6 465.7,328.7 466.1,330.0 466.4,322.8 466.8,323.6 467.1,325.9 467.5,324.8 467.8,325.4 468.2,328.1 468.5,327.7 468.9,328.0 469.2,328.7 469.6,328.8 469.9,331.9 470.3,333.7 470.6,333.3 471.0,335.7 471.3,337.3 471.7,334.4 472.1,337.2 472.4,336.9 472.8,336.5 473.1,339.3 473.5,337.2 473.8,337.7 474.2,338.7 474.5,338.2 474.9,339.9 475.2,342.0 475.6,339.5 475.9,340.5 476.3,338.2 476.6,339.1 477.0,340.2 477.3,339.5 477.7,337.9 478.0,338.2 478.4,339.3 478.7,339.2 479.1,340.2 479.4,340.0 479.8,339.1 480.1,340.1 480.5,339.6 480.8,341.4 481.2,342.2 481.5,342.2 481.9,340.6 482.3,338.3 482.6,338.5 483.0,341.3 483.3,342.1 483.7,339.0 484.0,339.4 484.4,341.8 484.7,338.6 485.1,339.8 485.4,338.2 485.8,339.5 486.1,338.8 486.5,339.5 486.8,341.1 487.2,340.1 487.5,340.7 487.9,338.6 488.2,341.0 488.6,341.6 488.9,338.6 489.3,337.9 489.6,337.4 490.0,337.8 490.3,341.2 490.7,340.0 491.0,339.6 491.4,338.8 491.7,341.5 492.1,338.3 492.4,337.7 492.8,339.1 493.2,337.3 493.5,335.4 493.9,336.6 494.2,334.6 494.6,334.1 494.9,334.3 495.3,333.5 495.6,333.8 496.0,330.2 496.3,331.8 496.7,331.0 497.0,327.2 497.4,328.2 497.7,324.5 498.1,321.7 498.4,321.8 498.8,320.1 499.1,317.1 499.5,316.2 499.8,320.0 500.2,319.3 500.5,314.1 500.9,316.6 501.2,322.5 501.6,322.3 501.9,321.0 502.3,324.3 502.6,323.0 503.0,325.1 503.4,325.5 503.7,329.4 504.1,327.2 504.4,325.7 504.8,330.9 505.1,327.9 505.5,328.8 505.8,329.7 506.2,331.2 506.5,333.3 506.9,333.2 507.2,331.1 507.6,331.3 507.9,331.6 508.3,332.6 508.6,333.4 509.0,336.1 509.3,337.8 509.7,336.4 510.0,336.5 510.4,337.7 510.7,340.4 511.1,339.4 511.4,341.1 511.8,339.2 512.1,341.1 512.5,340.2 512.8,339.8 513.2,340.3 513.5,338.9 513.9,342.2 514.3,343.7 514.6,339.9 515.0,339.4 515.3,339.5 515.7,341.0 516.0,340.8 516.4,341.4 516.7,343.3 517.1,342.4 517.4,341.2 517.8,342.6 518.1,339.6 518.5,343.9 518.8,342.6 519.2,340.7 519.5,342.9 519.9,343.6 520.2,343.9 520.6,343.2 520.9,340.5 521.3,341.9 521.6,341.8 522.0,343.1 522.3,341.5 522.7,342.4 523.0,343.7 523.4,343.2 523.7,342.5 524.1,341.3 524.5,342.8 524.8,342.2 525.2,340.4 525.5,343.8 525.9,344.4 526.2,341.8 526.6,342.5 526.9,343.2 527.3,342.8 527.6,343.5 528.0,342.5 528.3,343.6 528.7,342.3 529.0,344.6 529.4,344.2 529.7,343.2 530.1,343.9 530.4,342.6 530.8,343.5 531.1,344.1 531.5,343.2 531.8,344.1 532.2,345.4 532.5,344.9 532.9,344.5 533.2,344.2 533.6,343.6 533.9,342.7 534.3,343.1 534.6,341.7 535.0,342.3" fill="none" stroke="#ff0" stroke-width="1.6" stroke-linejoin="round"/>
<polyline points="113.0,287.9 113.4,287.6 113.7,284.1 114.1,287.2 114.4,293.2 114.8,290.2 115.1,292.3 115.5,291.2 115.8,295.8 116.2,292.3 116.5,292.9 116.9,290.6 117.2,293.9 117.6,294.0 117.9,298.9 118.3,291.3 118.6,300.8 119.0,294.8 119.3,298.3 119.7,299.9 120.0,299.8 120.4,300.3 120.7,298.5 121.1,299.9 121.4,297.0 121.8,304.2 122.1,300.8 122.5,303.0 122.8,299.9 123.2,306.2 123.6,302.9 123.9,302.0 124.3,305.8 124.6,301.1 125.0,303.0 125.3,301.7 125.7,302.1 126.0,306.2 126.4,306.1 126.7,305.2 127.1,303.6 127.4,303.7 127.8,307.0 128.1,307.0 128.5,307.6 128.8,307.4 129.2,307.0 129.5,307.0 129.9,302.9 130.2,308.1 130.6,307.9 130.9,306.6 131.3,309.5 131.6,308.6 132.0,308.0 132.3,306.7 132.7,310.9 133.0,305.9 133.4,309.3 133.7,308.4 134.1,307.3 134.5,307.7 134.8,307.1 135.2,308.9 135.5,309.3 135.9,308.7 136.2,311.3 136.6,307.1 136.9,310.9 137.3,311.8 137.6,305.5 138.0,309.6 138.3,311.5 138.7,305.6 139.0,309.6 139.4,306.8 139.7,310.2 140.1,308.8 140.4,311.2 140.8,311.3 141.1,309.0 141.5,306.7 141.8,304.4 142.2,300.4 142.5,306.4 142.9,301.4 143.2,303.5 143.6,301.2 143.9,302.4 144.3,300.6 144.7,296.9 145.0,295.1 145.4,289.2 145.7,286.8 146.1,277.1 146.4,273.4 146.8,265.5 147.1,252.7 147.5,241.3 147.8,226.3 148.2,205.1 148.5,178.5 148.9,142.3 149.2,110.4 149.6,85.7 149.9,73.4 150.3,90.3 150.6,112.6 151.0,153.7 151.3,175.1 151.7,206.8 152.0,228.2 152.4,244.0 152.7,259.0 153.1,270.0 153.4,274.6 153.8,283.7 154.1,291.3 154.5,292.5 154.8,300.7 155.2,296.5 155.6,302.7 155.9,304.4 156.3,301.8 156.6,303.6 157.0,308.9 157.3,309.1 157.7,309.3 158.0,309.1 158.4,313.2 158.7,313.5 159.1,312.1 159.4,314.4 159.8,314.1 160.1,314.8 160.5,318.3 160.8,318.2 161.2,321.7 161.5,317.9 161.9,315.4 162.2,319.9 162.6,316.2 162.9,316.8 163.3,318.9 163.6,319.0 164.0,319.0 164.3,320.8 164.7,320.0 165.0,319.8 165.4,318.9 165.8,318.7 166.1,321.4 166.5,318.9 166.8,321.8 167.2,320.9 167.5,320.1 167.9,320.9 168.2,321.2 168.6,320.7 168.9,322.1 169.3,322.4 169.6,321.8 170.0,320.0 170.3,321.9 170.7,318.7 171.0,321.6 171.4,326.9 171.7,322.9 172.1,319.6 172.4,322.4 172.8,323.2 173.1,324.1 173.5,320.6 173.8,321.3 174.2,321.9 174.5,322.4 174.9,320.9 175.2,322.0 175.6,325.4 175.9,322.3 176.3,323.4 176.7,323.9 177.0,322.6 177.4,323.9 177.7,328.7 178.1,321.7 178.4,322.6 178.8,324.6 179.1,325.1 179.5,324.2 179.8,326.7 180.2,324.3 180.5,325.2 180.9,325.5 181.2,326.5 181.6,326.2 181.9,323.6 182.3,323.3 182.6,324.7 183.0,325.7 183.3,327.1 183.7,324.7 184.0,323.4 184.4,328.5 184.7,324.3 185.1,329.6 185.4,326.9 185.8,325.9 186.1,328.6 186.5,329.0 186.9,326.5 187.2,325.5 187.6,327.7 187.9,325.0 188.3,328.3 188.6,324.6 189.0,327.2 189.3,327.1 189.7,326.6 190.0,327.1 190.4,325.0 190.7,324.5 191.1,327.1 191.4,328.2 191.8,329.8 192.1,329.2 192.5,328.2 192.8,328.4 193.2,328.4 193.5,328.4 193.9,327.8 194.2,330.6 194.6,330.1 194.9,327.1 195.3,327.5 195.6,329.6 196.0,327.0 196.3,330.0 196.7,329.4 197.0,331.8 197.4,327.9 197.8,329.3 198.1,327.8 198.5,328.3 198.8,329.3 199.2,329.3 199.5,327.8 199.9,329.9 200.2,329.9 200.6,329.6 200.9,328.7 201.3,328.5 201.6,327.2 202.0,330.1 202.3,328.2 202.7,331.1 203.0,329.3 203.4,330.1 203.7,327.8 204.1,329.5 204.4,331.1 204.8,329.7 205.1,330.1 205.5,331.1 205.8,331.1 206.2,332.1 206.5,327.0 206.9,330.7 207.2,329.6 207.6,332.7 208.0,332.6 208.3,331.4 208.7,331.4 209.0,330.2 209.4,332.8 209.7,330.7 210.1,329.4 210.4,332.8 210.8,330.4 211.1,333.0 211.5,331.3 211.8,331.3 212.2,329.5 212.5,332.9 212.9,331.7 213.2,330.6 213.6,333.7 213.9,332.1 214.3,333.4 214.6,333.2 215.0,331.3 215.3,331.4 215.7,328.8 216.0,330.5 216.4,330.7 216.7,332.7 217.1,332.9 217.4,332.4 217.8,335.7 218.1,330.4 218.5,333.6 218.9,334.2 219.2,333.4 219.6,331.6 219.9,331.1 220.3,333.4 220.6,332.3 221.0,333.0 221.3,334.3 221.7,332.7 222.0,332.9 222.4,335.0 222.7,331.4 223.1,335.0 223.4,332.6 223.8,334.3 224.1,333.9 224.5,333.7 224.8,331.7 225.2,334.3 225.5,332.8 225.9,330.3 226.2,333.2 226.6,332.1 226.9,331.0 227.3,332.4 227.6,330.6 228.0,331.8 228.3,329.4 228.7,329.7 229.1,330.3 229.4,325.9 229.8,327.0 230.1,326.0 230.5,325.5 230.8,323.1 231.2,320.8 231.5,318.7 231.9,315.9 232.2,319.3 232.6,317.5 232.9,315.1 233.3,317.5 233.6,317.7 234.0,316.1 234.3,318.2 234.7,317.4 235.0,317.2 235.4,312.1 235.7,310.6 236.1,310.3 236.4,303.3 236.8,301.5 237.1,290.9 237.5,286.2 237.8,284.0 238.2,283.1 238.5,287.8 238.9,285.8 239.2,293.2 239.6,299.2 240.0,302.2 240.3,309.2 240.7,312.3 241.0,314.8 241.4,317.4 241.7,311.5 242.1,316.3 242.4,316.4 242.8,313.9 243.1,321.1 243.5,315.9 243.8,316.8 244.2,320.0 244.5,319.4 244.9,325.4 245.2,324.0 245.6,324.4 245.9,330.6 246.3,330.7 246.6,329.9 247.0,330.6 247.3,332.3 247.7,331.5 248.0,332.2 248.4,334.7 248.7,333.4 249.1,335.3 249.4,336.6 249.8,337.2 250.2,332.9 250.5,334.6 250.9,332.0 251.2,336.6 251.6,335.3 251.9,334.5 252.3,335.2 252.6,334.5 253.0,335.1 253.3,336.1 253.7,338.4 254.0,336.7 254.4,333.3 254.7,334.6 255.1,333.9 255.4,336.4 255.8,336.0 256.1,336.9 256.5,335.3 256.8,335.8 257.2,335.3 257.5,333.7 257.9,337.1 258.2,335.1 258.6,337.8 258.9,334.7 259.3,336.7 259.6,336.2 260.0,336.0 260.3,334.1 260.7,336.3 261.1,336.9 261.4,337.8 261.8,336.0 262.1,337.4 262.5,337.0 262.8,336.4 263.2,335.6 263.5,337.3 263.9,335.6 264.2,334.3 264.6,338.4 264.9,334.8 265.3,333.8 265.6,337.3 266.0,335.8 266.3,338.3 266.7,336.2 267.0,337.0 267.4,336.3 267.7,337.8 268.1,337.7 268.4,337.2 268.8,337.6 269.1,337.5 269.5,337.0 269.8,338.1 270.2,336.9 270.5,336.2 270.9,339.7 271.3,336.6 271.6,337.7 272.0,338.2 272.3,338.5 272.7,337.9 273.0,337.8 273.4,336.5 273.7,338.5 274.1,335.6 274.4,337.9 274.8,336.1 275.1,335.6 275.5,338.5 275.8,335.6 276.2,334.2 276.5,337.5 276.9,336.2 277.2,337.1 277.6,336.8 277.9,337.1 278.3,337.5 278.6,336.0 279.0,335.8 279.3,336.9 279.7,335.0 280.0,335.5 280.4,336.0 280.7,337.8 281.1,334.5 281.4,335.2 281.8,339.5 282.2,338.3 282.5,337.5 282.9,335.7 283.2,335.3 283.6,337.2 283.9,336.6 284.3,336.0 284.6,338.5 285.0,336.1 285.3,337.3 285.7,336.6 286.0,336.9 286.4,338.3 286.7,338.1 287.1,336.8 287.4,336.7 287.8,337.2 288.1,335.5 288.5,337.3 288.8,338.3 289.2,337.2 289.5,337.0 289.9,337.0 290.2,335.3 290.6,336.1 290.9,335.4 291.3,336.0 291.6,336.9 292.0,335.4 292.4,337.0 292.7,336.3 293.1,337.8 293.4,336.4 293.8,336.9 294.1,336.0 294.5,334.2 294.8,333.4 295.2,335.1 295.5,336.3 295.9,335.2 296.2,335.9 296.6,336.9 296.9,336.1 297.3,336.2 297.6,336.6 298.0,334.0 298.3,336.3 298.7,336.1 299.0,334.4 299.4,336.1 299.7,336.5 300.1,335.9 300.4,334.0 300.8,333.9 301.1,333.7 301.5,334.4 301.8,334.7 302.2,331.8 302.5,334.6 302.9,332.4 303.3,333.4 303.6,331.5 304.0,330.3 304.3,327.4 304.7,332.3 305.0,324.7 305.4,326.5 305.7,322.7 306.1,319.3 306.4,318.9 306.8,313.9 307.1,308.2 307.5,303.6 307.8,298.1 308.2,288.0 308.5,279.1 308.9,273.6 309.2,256.8 309.6,252.3 309.9,255.8 310.3,251.7 310.6,249.4 311.0,258.0 311.3,271.1 311.7,285.5 312.0,290.9 312.4,296.0 312.7,304.1 313.1,311.0 313.5,316.3 313.8,317.2 314.2,321.9 314.5,323.5 314.9,325.2 315.2,325.1 315.6,328.6 315.9,329.6 316.3,333.4 316.6,330.1 317.0,331.1 317.3,333.0 317.7,336.5 318.0,334.7 318.4,334.2 318.7,332.0 319.1,334.3 319.4,334.3 319.8,334.6 320.1,334.2 320.5,337.5 320.8,337.4 321.2,338.0 321.5,337.0 321.9,337.3 322.2,336.9 322.6,338.4 322.9,337.2 323.3,338.4 323.6,334.9 324.0,338.3 324.4,334.7 324.7,335.9 325.1,339.4 325.4,336.9 325.8,337.4 326.1,340.1 326.5,337.6 326.8,338.5 327.2,338.0 327.5,339.5 327.9,338.6 328.2,338.1 328.6,338.9 328.9,339.4 329.3,338.9 329.6,339.9 330.0,338.4 330.3,341.8 330.7,337.0 331.0,338.7 331.4,338.3 331.7,337.8 332.1,340.3 332.4,336.1 332.8,340.1 333.1,338.2 333.5,338.4 333.8,337.2 334.2,338.7 334.6,340.4 334.9,338.3 335.3,341.5 335.6,338.8 336.0,339.1 336.3,336.6 336.7,338.7 337.0,338.9 337.4,339.2 337.7,339.2 338.1,338.8 338.4,337.3 338.8,339.5 339.1,338.0 339.5,339.4 339.8,337.7 340.2,337.2 340.5,338.7 340.9,337.7 341.2,336.7 341.6,335.6 341.9,335.1 342.3,336.2 342.6,337.0 343.0,337.5 343.3,334.0 343.7,332.7 344.0,333.6 344.4,331.4 344.7,333.4 345.1,332.5 345.5,328.8 345.8,331.3 346.2,327.7 346.5,326.4 346.9,324.9 347.2,320.2 347.6,322.0 347.9,318.4 348.3,318.2 348.6,312.8 349.0,307.8 349.3,303.4 349.7,298.8 350.0,293.7 350.4,292.5 350.7,293.1 351.1,287.2 351.4,286.9 351.8,292.2 352.1,294.0 352.5,291.6 352.8,296.6 353.2,299.8 353.5,303.6 353.9,307.1 354.2,310.2 354.6,309.3 354.9,311.4 355.3,311.8 355.7,310.3 356.0,309.0 356.4,305.1 356.7,306.2 357.1,296.0 357.4,299.8 357.8,294.8 358.1,287.9 358.5,288.7 358.8,285.5 359.2,283.3 359.5,290.8 359.9,287.0 360.2,291.3 360.6,293.7 360.9,296.6 361.3,300.9 361.6,303.7 362.0,308.0 362.3,312.5 362.7,317.7 363.0,318.8 363.4,324.6 363.7,325.2 364.1,324.7 364.4,327.2 364.8,331.7 365.1,331.6 365.5,330.4 365.8,331.6 366.2,331.7 366.6,336.1 366.9,335.9 367.3,335.0 367.6,336.3 368.0,335.5 368.3,335.7 368.7,335.6 369.0,336.4 369.4,335.8 369.7,335.7 370.1,336.7 370.4,338.6 370.8,335.7 371.1,337.1 371.5,337.0 371.8,337.5 372.2,339.7 372.5,337.2 372.9,338.8 373.2,339.6 373.6,336.6 373.9,338.6 374.3,338.0 374.6,337.4 375.0,336.6 375.3,340.7 375.7,339.5 376.0,337.9 376.4,339.5 376.8,342.6 377.1,338.7 377.5,338.6 377.8,338.0 378.2,338.7 378.5,339.5 378.9,338.8 379.2,339.1 379.6,339.7 379.9,338.8 380.3,338.7 380.6,340.4 381.0,338.0 381.3,338.2 381.7,338.3 382.0,342.5 382.4,339.1 382.7,339.4 383.1,340.5 383.4,338.6 383.8,341.1 384.1,337.9 384.5,338.9 384.8,340.0 385.2,337.7 385.5,338.8 385.9,339.0 386.2,340.9 386.6,338.8 386.9,337.8 387.3,338.1 387.7,340.9 388.0,337.8 388.4,337.6 388.7,338.4 389.1,339.9 389.4,341.2 389.8,340.5 390.1,340.1 390.5,339.1 390.8,338.8 391.2,340.3 391.5,341.3 391.9,339.9 392.2,340.9 392.6,337.8 392.9,340.8 393.3,338.8 393.6,338.4 394.0,340.5 394.3,338.1 394.7,339.5 395.0,340.2 395.4,340.4 395.7,339.1 396.1,337.9 396.4,341.4 396.8,338.4 397.1,339.3 397.5,339.9 397.9,339.1 398.2,339.0 398.6,339.0 398.9,337.9 399.3,339.8 399.6,336.3 400.0,337.5 400.3,339.2 400.7,340.7 401.0,338.4 401.4,338.7 401.7,337.2 402.1,337.1 402.4,335.5 402.8,337.8 403.1,336.5 403.5,337.8 403.8,337.5 404.2,334.9 404.5,336.7 404.9,336.3 405.2,336.3 405.6,335.0 405.9,334.2 406.3,334.6 406.6,335.4 407.0,332.7 407.3,333.5 407.7,331.9 408.0,330.0 408.4,328.7 408.8,331.1 409.1,323.3 409.5,322.8 409.8,318.7 410.2,315.3 410.5,318.6 410.9,315.3 411.2,311.0 411.6,307.0 411.9,307.6 412.3,305.5 412.6,301.8 413.0,305.9 413.3,304.7 413.7,304.9 414.0,309.9 414.4,310.6 414.7,315.1 415.1,320.3 415.4,321.0 415.8,322.8 416.1,325.1 416.5,326.4 416.8,327.4 417.2,329.0 417.5,330.4 417.9,332.3 418.2,332.9 418.6,333.9 419.0,334.9 419.3,332.9 419.7,337.7 420.0,335.4 420.4,338.2 420.7,337.2 421.1,335.8 421.4,337.4 421.8,335.6 422.1,338.7 422.5,338.1 422.8,338.7 423.2,338.1 423.5,338.6 423.9,338.8 424.2,338.4 424.6,337.3 424.9,338.5 425.3,338.8 425.6,339.3 426.0,339.9 426.3,340.8 426.7,340.4 427.0,339.2 427.4,341.6 427.7,338.6 428.1,339.9 428.4,340.6 428.8,340.2 429.1,338.8 429.5,339.2 429.9,339.3 430.2,337.6 430.6,337.0 430.9,341.2 431.3,338.7 431.6,340.6 432.0,341.3 432.3,340.4 432.7,338.6 433.0,340.1 433.4,340.3 433.7,338.1 434.1,339.2 434.4,339.9 434.8,337.7 435.1,339.2 435.5,340.6 435.8,341.0 436.2,340.3 436.5,339.6 436.9,338.7 437.2,338.8 437.6,339.7 437.9,341.1 438.3,338.7 438.6,339.7 439.0,341.1 439.3,341.2 439.7,339.6 440.1,339.4 440.4,338.9 440.8,341.2 441.1,337.6 441.5,341.9 441.8,339.9 442.2,338.3 442.5,338.6 442.9,340.9 443.2,339.1 443.6,338.3 443.9,338.9 444.3,340.8 444.6,337.7 445.0,341.5 445.3,339.5 445.7,340.8 446.0,340.0 446.4,339.8 446.7,338.8 447.1,340.8 447.4,339.0 447.8,337.6 448.1,338.9 448.5,338.2 448.8,338.2 449.2,339.4 449.5,338.7 449.9,338.0 450.2,337.1 450.6,334.8 451.0,334.9 451.3,337.0 451.7,336.4 452.0,336.6 452.4,337.6 452.7,331.9 453.1,332.0 453.4,334.5 453.8,330.8 454.1,326.3 454.5,328.0 454.8,327.2 455.2,327.0 455.5,328.1 455.9,328.7 456.2,328.5 456.6,327.6 456.9,329.0 457.3,328.5 457.6,327.9 458.0,330.5 458.3,331.1 458.7,333.5 459.0,335.4 459.4,331.4 459.7,333.7 460.1,333.5 460.4,335.8 460.8,337.7 461.2,333.8 461.5,338.3 461.9,335.6 462.2,335.8 462.6,334.5 462.9,333.2 463.3,332.6 463.6,335.9 464.0,330.8 464.3,334.0 464.7,329.3 465.0,329.8 465.4,329.7 465.7,327.6 466.1,327.8 466.4,324.9 466.8,322.8 467.1,322.9 467.5,324.3 467.8,323.3 468.2,325.2 468.5,323.8 468.9,327.6 469.2,330.5 469.6,331.3 469.9,333.1 470.3,333.4 470.6,334.2 471.0,333.9 471.3,334.5 471.7,336.1 472.1,336.2 472.4,338.1 472.8,338.3 473.1,341.0 473.5,339.2 473.8,339.1 474.2,335.7 474.5,340.5 474.9,339.0 475.2,339.6 475.6,341.2 475.9,339.2 476.3,339.6 476.6,341.4 477.0,342.5 477.3,339.9 477.7,341.5 478.0,339.1 478.4,340.3 478.7,339.4 479.1,340.4 479.4,338.3 479.8,339.3 480.1,338.4 480.5,340.0 480.8,341.4 481.2,341.8 481.5,340.8 481.9,339.9 482.3,341.0 482.6,337.4 483.0,340.3 483.3,339.7 483.7,340.1 484.0,341.7 484.4,339.0 484.7,339.4 485.1,339.2 485.4,341.2 485.8,340.1 486.1,340.1 486.5,338.7 486.8,341.6 487.2,339.2 487.5,338.5 487.9,340.4 488.2,340.8 488.6,338.2 488.9,339.4 489.3,338.3 489.6,338.6 490.0,338.1 490.3,339.5 490.7,341.7 491.0,338.3 491.4,339.6 491.7,337.9 492.1,339.0 492.4,336.2 492.8,338.2 493.2,336.5 493.5,335.7 493.9,336.8 494.2,335.7 494.6,335.5 494.9,336.0 495.3,332.0 495.6,334.4 496.0,334.3 496.3,331.6 496.7,329.4 497.0,328.1 497.4,327.1 497.7,325.7 498.1,326.7 498.4,320.5 498.8,316.9 499.1,319.6 499.5,320.4 499.8,315.0 500.2,316.3 500.5,323.4 500.9,318.2 501.2,320.4 501.6,321.2 501.9,317.2 502.3,320.4 502.6,323.8 503.0,324.8 503.4,323.6 503.7,328.8 504.1,326.9 504.4,329.7 504.8,328.1 505.1,329.5 505.5,331.3 505.8,329.0 506.2,330.1 506.5,328.6 506.9,332.2 507.2,331.9 507.6,333.7 507.9,331.6 508.3,335.0 508.6,334.7 509.0,333.7 509.3,335.4 509.7,336.3 510.0,336.9 510.4,337.4 510.7,337.5 511.1,339.1 511.4,341.6 511.8,337.9 512.1,341.1 512.5,338.0 512.8,340.0 513.2,336.9 513.5,339.4 513.9,340.4 514.3,340.0 514.6,342.8 515.0,341.1 515.3,341.9 515.7,341.5 516.0,343.9 516.4,344.2 516.7,341.0 517.1,341.9 517.4,342.5 517.8,342.2 518.1,342.8 518.5,342.7 518.8,341.5 519.2,342.6 519.5,341.6 519.9,343.2 520.2,344.4 520.6,343.2 520.9,342.7 521.3,343.8 521.6,343.1 522.0,343.3 522.3,341.8 522.7,341.9 523.0,341.7 523.4,343.7 523.7,342.6 524.1,341.6 524.5,342.8 524.8,343.1 525.2,343.9 525.5,342.3 525.9,343.0 526.2,342.2 526.6,343.4 526.9,341.1 527.3,343.4 527.6,344.7 528.0,343.2 528.3,342.9 528.7,342.1 529.0,344.0 529.4,344.1 529.7,343.9 530.1,344.0 530.4,345.9 530.8,342.9 531.1,342.4 531.5,344.5 531.8,344.8 532.2,344.0 532.5,344.7 532.9,343.0 533.2,344.5 533.6,343.3 533.9,345.2 534.3,345.4 534.6,345.6 535.0,345.5" fill="none" stroke="#0f0" stroke-width="1.7" stroke-linejoin="round"/>
</g>
<rect x="113.0" y="16.9" width="422.0" height="341.10" fill="none" stroke="#000" stroke-width="1.9"/>
<path d="M113.00 358.0 v-7 M148.17 358.0 v-4 M183.33 358.0 v-7 M218.50 358.0 v-4 M253.67 358.0 v-7 M288.83 358.0 v-4 M324.00 358.0 v-7 M359.17 358.0 v-4 M394.33 358.0 v-7 M429.50 358.0 v-4 M464.67 358.0 v-7 M499.83 358.0 v-4 M535.00 358.0 v-7 M113.0 358.00 h7 M113.0 315.36 h4 M113.0 272.73 h7 M113.0 230.09 h4 M113.0 187.45 h7 M113.0 144.81 h4 M113.0 102.17 h7 M113.0 59.54 h4 M113.0 16.90 h7" stroke="#000" stroke-width="1.5" fill="none"/>
<text x="113.0" y="382.6" font-size="20.5" text-anchor="middle">20</text>
<text x="183.3" y="382.6" font-size="20.5" text-anchor="middle">30</text>
<text x="253.7" y="382.6" font-size="20.5" text-anchor="middle">40</text>
<text x="324.0" y="382.6" font-size="20.5" text-anchor="middle">50</text>
<text x="394.3" y="382.6" font-size="20.5" text-anchor="middle">60</text>
<text x="464.7" y="382.6" font-size="20.5" text-anchor="middle">70</text>
<text x="535.0" y="382.6" font-size="20.5" text-anchor="middle">80</text>
<text y="24.9" font-size="20.5"><tspan x="35.36">8.0x10</tspan><tspan x="97.5" dy="-8.9" font-size="14.3">3</tspan></text>
<text y="110.1" font-size="20.5"><tspan x="35.36">6.0x10</tspan><tspan x="97.5" dy="-8.9" font-size="14.3">3</tspan></text>
<text y="195.3" font-size="20.5"><tspan x="35.36">4.0x10</tspan><tspan x="97.5" dy="-8.9" font-size="14.3">3</tspan></text>
<text y="280.4" font-size="20.5"><tspan x="35.36">2.0x10</tspan><tspan x="97.5" dy="-8.9" font-size="14.3">3</tspan></text>
<text x="105.2" y="364.4" font-size="20.5" text-anchor="end">0.0</text>
<text x="324" y="417.6" font-size="20.9" font-weight="bold" text-anchor="middle">2θ (deg)</text>
<text transform="translate(23.8 187.6) rotate(-90)" font-size="20.8" font-weight="bold" text-anchor="middle">Intensity (a.u.)</text>
<text x="127.4" y="32.5" font-size="17.8" textLength="41.7" lengthAdjust="spacingAndGlyphs">(101)</text>
<text x="209.9" y="262.8" font-size="17.8" textLength="41.7" lengthAdjust="spacingAndGlyphs">(004)</text>
<text x="285.0" y="231.1" font-size="17.8" textLength="41.7" lengthAdjust="spacingAndGlyphs">(200)</text>
<text transform="translate(175.7 201.9) rotate(-90)" font-size="17.8" textLength="41.7" lengthAdjust="spacingAndGlyphs">(002)</text>
<text transform="translate(273.7 299.1) rotate(-90)" font-size="17.8" textLength="134.0" lengthAdjust="spacingAndGlyphs">(100), (101), (10)</text>
<text transform="translate(348.4 282.4) rotate(-90)" font-size="17.8" textLength="41.7" lengthAdjust="spacingAndGlyphs">(105)</text>
<text transform="translate(374.6 276.0) rotate(-90)" font-size="17.8" textLength="41.7" lengthAdjust="spacingAndGlyphs">(211)</text>
<text transform="translate(420.4 292.9) rotate(-90)" font-size="17.8" textLength="41.7" lengthAdjust="spacingAndGlyphs">(204)</text>
<text transform="translate(449.2 318.6) rotate(-90)" font-size="17.8" textLength="41.7" lengthAdjust="spacingAndGlyphs">(116)</text>
<text transform="translate(477.4 319.7) rotate(-90)" font-size="17.8" textLength="41.7" lengthAdjust="spacingAndGlyphs">(220)</text>
<text transform="translate(507.9 313.3) rotate(-90)" font-size="17.8" textLength="41.7" lengthAdjust="spacingAndGlyphs">(215)</text>
<line x1="319" y1="32.6" x2="360.3" y2="32.6" stroke="#000" stroke-width="1.7"/>
<text x="364.5" y="37.8" font-size="17.8" textLength="67.7" lengthAdjust="spacingAndGlyphs">SWCNH</text>
<line x1="319" y1="54.7" x2="360.3" y2="54.7" stroke="#f00" stroke-width="1.7"/>
<text y="60.1" font-size="17.8" xml:space="preserve"><tspan x="365.5">TiO</tspan><tspan x="393.0" dy="4.6" font-size="14">2</tspan></text>
<line x1="319" y1="79.2" x2="360.3" y2="79.2" stroke="#00f" stroke-width="1.7"/>
<text y="84.2" font-size="17.8" xml:space="preserve"><tspan x="365.5">TiO</tspan><tspan x="393.0" dy="4.6" font-size="14">2</tspan> <tspan x="404.8" dy="-4.6">+</tspan> <tspan x="421.4" textLength="22.9" lengthAdjust="spacingAndGlyphs">1%</tspan> <tspan x="451.1" textLength="67.0" lengthAdjust="spacingAndGlyphs">SWCNH</tspan></text>
<line x1="319" y1="104.7" x2="360.3" y2="104.7" stroke="#ff0" stroke-width="1.7"/>
<text y="110.2" font-size="17.8" xml:space="preserve"><tspan x="365.5">TiO</tspan><tspan x="393.0" dy="4.6" font-size="14">2</tspan> <tspan x="404.8" dy="-4.6">+</tspan> <tspan x="421.4" textLength="22.9" lengthAdjust="spacingAndGlyphs">5%</tspan> <tspan x="451.1" textLength="67.0" lengthAdjust="spacingAndGlyphs">SWCNH</tspan></text>
<line x1="319" y1="130.3" x2="360.3" y2="130.3" stroke="#0f0" stroke-width="1.7"/>
<text y="135.9" font-size="17.8" xml:space="preserve"><tspan x="365.5">TiO</tspan><tspan x="393.0" dy="4.6" font-size="14">2</tspan> <tspan x="404.8" dy="-4.6">+</tspan> <tspan x="421.5" textLength="33.0" lengthAdjust="spacingAndGlyphs">10%</tspan> <tspan x="460.4" textLength="67.3" lengthAdjust="spacingAndGlyphs">SWCNH</tspan></text>
</svg>
</body></html>
